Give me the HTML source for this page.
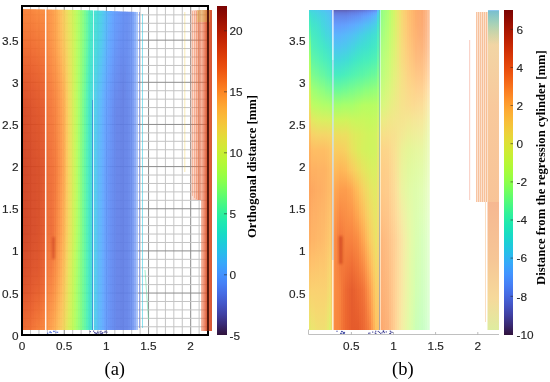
<!DOCTYPE html>
<html><head><meta charset="utf-8"><style>
html,body{margin:0;padding:0;background:#fff;}
body{width:550px;height:382px;position:relative;overflow:hidden;font-family:"Liberation Sans",Arial,sans-serif;color:#262626;}
.t{position:absolute;font-size:11.8px;line-height:12px;white-space:nowrap;-webkit-text-stroke:0.15px #262626;}
.yl{text-align:right;width:30px;}
.xl{text-align:center;width:30px;}
.cb{position:absolute;}
.lab{position:absolute;font-family:"Liberation Serif",serif;font-weight:bold;font-size:12.7px;color:#000;white-space:nowrap;transform-origin:0 0;transform:rotate(-90deg);line-height:13px;}
.cap{position:absolute;font-family:"Liberation Serif",serif;font-size:18.5px;color:#000;line-height:18px;}
</style></head><body>

<svg width="550" height="382" style="position:absolute;left:0;top:0"><defs><linearGradient id="L0" x1="0" y1="0" x2="0" y2="1"><stop offset="0.000" stop-color="#f87b2e" stop-opacity="0.93"/><stop offset="0.034" stop-color="#f6762b" stop-opacity="0.93"/><stop offset="0.081" stop-color="#f26b27" stop-opacity="0.93"/><stop offset="0.128" stop-color="#ee6123" stop-opacity="0.93"/><stop offset="0.190" stop-color="#e6551f" stop-opacity="0.93"/><stop offset="0.252" stop-color="#dd491c" stop-opacity="0.93"/><stop offset="0.315" stop-color="#d6421a" stop-opacity="0.93"/><stop offset="0.377" stop-color="#d4411a" stop-opacity="0.93"/><stop offset="0.439" stop-color="#d03d19" stop-opacity="0.93"/><stop offset="0.502" stop-color="#ce3c19" stop-opacity="0.93"/><stop offset="0.564" stop-color="#ce3c19" stop-opacity="0.93"/><stop offset="0.626" stop-color="#ce3c19" stop-opacity="0.93"/><stop offset="0.688" stop-color="#ce3c19" stop-opacity="0.93"/><stop offset="0.751" stop-color="#d23f1a" stop-opacity="0.93"/><stop offset="0.813" stop-color="#d6421a" stop-opacity="0.93"/><stop offset="0.875" stop-color="#dd491c" stop-opacity="0.93"/><stop offset="0.938" stop-color="#e6551f" stop-opacity="0.93"/><stop offset="1.000" stop-color="#ee6123" stop-opacity="0.93"/></linearGradient><linearGradient id="L1" x1="0" y1="0" x2="0" y2="1"><stop offset="0.000" stop-color="#f87c30" stop-opacity="0.93"/><stop offset="0.034" stop-color="#f6772e" stop-opacity="0.93"/><stop offset="0.081" stop-color="#f26d29" stop-opacity="0.93"/><stop offset="0.128" stop-color="#ee6326" stop-opacity="0.93"/><stop offset="0.190" stop-color="#e65621" stop-opacity="0.93"/><stop offset="0.252" stop-color="#dd4b1e" stop-opacity="0.93"/><stop offset="0.315" stop-color="#d6441d" stop-opacity="0.93"/><stop offset="0.377" stop-color="#d5431c" stop-opacity="0.93"/><stop offset="0.439" stop-color="#d1401c" stop-opacity="0.93"/><stop offset="0.502" stop-color="#cf3e1b" stop-opacity="0.93"/><stop offset="0.564" stop-color="#cf3e1b" stop-opacity="0.93"/><stop offset="0.626" stop-color="#cf3e1b" stop-opacity="0.93"/><stop offset="0.688" stop-color="#cf3e1b" stop-opacity="0.93"/><stop offset="0.751" stop-color="#d3411c" stop-opacity="0.93"/><stop offset="0.813" stop-color="#d6441d" stop-opacity="0.93"/><stop offset="0.875" stop-color="#dd4b1e" stop-opacity="0.93"/><stop offset="0.938" stop-color="#e65621" stop-opacity="0.93"/><stop offset="1.000" stop-color="#ee6326" stop-opacity="0.93"/></linearGradient><linearGradient id="L2" x1="0" y1="0" x2="0" y2="1"><stop offset="0.000" stop-color="#f87d31" stop-opacity="0.93"/><stop offset="0.034" stop-color="#f6782f" stop-opacity="0.93"/><stop offset="0.081" stop-color="#f26e2b" stop-opacity="0.93"/><stop offset="0.128" stop-color="#ee6427" stop-opacity="0.93"/><stop offset="0.190" stop-color="#e65723" stop-opacity="0.93"/><stop offset="0.252" stop-color="#dd4c20" stop-opacity="0.93"/><stop offset="0.315" stop-color="#d7461e" stop-opacity="0.93"/><stop offset="0.377" stop-color="#d5441e" stop-opacity="0.93"/><stop offset="0.439" stop-color="#d3421d" stop-opacity="0.93"/><stop offset="0.502" stop-color="#cf3f1d" stop-opacity="0.93"/><stop offset="0.564" stop-color="#cf3f1d" stop-opacity="0.93"/><stop offset="0.626" stop-color="#cf3f1d" stop-opacity="0.93"/><stop offset="0.688" stop-color="#cf3f1d" stop-opacity="0.93"/><stop offset="0.751" stop-color="#d3421d" stop-opacity="0.93"/><stop offset="0.813" stop-color="#d7461e" stop-opacity="0.93"/><stop offset="0.875" stop-color="#dd4c20" stop-opacity="0.93"/><stop offset="0.938" stop-color="#e65723" stop-opacity="0.93"/><stop offset="1.000" stop-color="#ef6628" stop-opacity="0.93"/></linearGradient><linearGradient id="L3" x1="0" y1="0" x2="0" y2="1"><stop offset="0.000" stop-color="#f87d31" stop-opacity="0.93"/><stop offset="0.034" stop-color="#f6782f" stop-opacity="0.93"/><stop offset="0.081" stop-color="#f26e2b" stop-opacity="0.93"/><stop offset="0.128" stop-color="#ee6427" stop-opacity="0.93"/><stop offset="0.190" stop-color="#e65723" stop-opacity="0.93"/><stop offset="0.252" stop-color="#df4e20" stop-opacity="0.93"/><stop offset="0.315" stop-color="#d8471e" stop-opacity="0.93"/><stop offset="0.377" stop-color="#d7461e" stop-opacity="0.93"/><stop offset="0.439" stop-color="#d3421d" stop-opacity="0.93"/><stop offset="0.502" stop-color="#d1411d" stop-opacity="0.93"/><stop offset="0.564" stop-color="#d1411d" stop-opacity="0.93"/><stop offset="0.626" stop-color="#d1411d" stop-opacity="0.93"/><stop offset="0.688" stop-color="#d1411d" stop-opacity="0.93"/><stop offset="0.751" stop-color="#d5441e" stop-opacity="0.93"/><stop offset="0.813" stop-color="#d8471e" stop-opacity="0.93"/><stop offset="0.875" stop-color="#df4e20" stop-opacity="0.93"/><stop offset="0.938" stop-color="#e85923" stop-opacity="0.93"/><stop offset="1.000" stop-color="#ef6628" stop-opacity="0.93"/></linearGradient><linearGradient id="L4" x1="0" y1="0" x2="0" y2="1"><stop offset="0.000" stop-color="#f87d31" stop-opacity="0.93"/><stop offset="0.034" stop-color="#f6782f" stop-opacity="0.93"/><stop offset="0.081" stop-color="#f26e2b" stop-opacity="0.93"/><stop offset="0.128" stop-color="#ee6427" stop-opacity="0.93"/><stop offset="0.190" stop-color="#e85923" stop-opacity="0.93"/><stop offset="0.252" stop-color="#e15021" stop-opacity="0.93"/><stop offset="0.315" stop-color="#da491f" stop-opacity="0.93"/><stop offset="0.377" stop-color="#d8471e" stop-opacity="0.93"/><stop offset="0.439" stop-color="#d5441e" stop-opacity="0.93"/><stop offset="0.502" stop-color="#d3421d" stop-opacity="0.93"/><stop offset="0.564" stop-color="#d3421d" stop-opacity="0.93"/><stop offset="0.626" stop-color="#d3421d" stop-opacity="0.93"/><stop offset="0.688" stop-color="#d3421d" stop-opacity="0.93"/><stop offset="0.751" stop-color="#d7461e" stop-opacity="0.93"/><stop offset="0.813" stop-color="#da491f" stop-opacity="0.93"/><stop offset="0.875" stop-color="#e15021" stop-opacity="0.93"/><stop offset="0.938" stop-color="#e95b24" stop-opacity="0.93"/><stop offset="1.000" stop-color="#f06929" stop-opacity="0.93"/></linearGradient><linearGradient id="L5" x1="0" y1="0" x2="0" y2="1"><stop offset="0.000" stop-color="#f98032" stop-opacity="0.93"/><stop offset="0.034" stop-color="#f6782f" stop-opacity="0.93"/><stop offset="0.081" stop-color="#f26e2b" stop-opacity="0.93"/><stop offset="0.128" stop-color="#ef6628" stop-opacity="0.93"/><stop offset="0.190" stop-color="#e85923" stop-opacity="0.93"/><stop offset="0.252" stop-color="#e15021" stop-opacity="0.93"/><stop offset="0.315" stop-color="#dc4b1f" stop-opacity="0.93"/><stop offset="0.377" stop-color="#da491f" stop-opacity="0.93"/><stop offset="0.439" stop-color="#d7461e" stop-opacity="0.93"/><stop offset="0.502" stop-color="#d5441e" stop-opacity="0.93"/><stop offset="0.564" stop-color="#d5441e" stop-opacity="0.93"/><stop offset="0.626" stop-color="#d5441e" stop-opacity="0.93"/><stop offset="0.688" stop-color="#d5441e" stop-opacity="0.93"/><stop offset="0.751" stop-color="#d8471e" stop-opacity="0.93"/><stop offset="0.813" stop-color="#dc4b1f" stop-opacity="0.93"/><stop offset="0.875" stop-color="#e25221" stop-opacity="0.93"/><stop offset="0.938" stop-color="#ea5d25" stop-opacity="0.93"/><stop offset="1.000" stop-color="#f26e2b" stop-opacity="0.93"/></linearGradient><linearGradient id="L6" x1="0" y1="0" x2="0" y2="1"><stop offset="0.000" stop-color="#f98233" stop-opacity="0.93"/><stop offset="0.034" stop-color="#f77a30" stop-opacity="0.93"/><stop offset="0.081" stop-color="#f3702c" stop-opacity="0.93"/><stop offset="0.128" stop-color="#ef6628" stop-opacity="0.93"/><stop offset="0.190" stop-color="#e95b24" stop-opacity="0.93"/><stop offset="0.252" stop-color="#e25221" stop-opacity="0.93"/><stop offset="0.315" stop-color="#dd4c20" stop-opacity="0.93"/><stop offset="0.377" stop-color="#da491f" stop-opacity="0.93"/><stop offset="0.439" stop-color="#d8471e" stop-opacity="0.93"/><stop offset="0.502" stop-color="#d5441e" stop-opacity="0.93"/><stop offset="0.564" stop-color="#d5441e" stop-opacity="0.93"/><stop offset="0.626" stop-color="#d5441e" stop-opacity="0.93"/><stop offset="0.688" stop-color="#d5441e" stop-opacity="0.93"/><stop offset="0.751" stop-color="#da491f" stop-opacity="0.93"/><stop offset="0.813" stop-color="#dd4c20" stop-opacity="0.93"/><stop offset="0.875" stop-color="#e45422" stop-opacity="0.93"/><stop offset="0.938" stop-color="#ed6226" stop-opacity="0.93"/><stop offset="1.000" stop-color="#f3702c" stop-opacity="0.93"/></linearGradient><linearGradient id="L7" x1="0" y1="0" x2="0" y2="1"><stop offset="0.000" stop-color="#fa8535" stop-opacity="0.93"/><stop offset="0.034" stop-color="#f87d31" stop-opacity="0.93"/><stop offset="0.081" stop-color="#f4732d" stop-opacity="0.93"/><stop offset="0.128" stop-color="#f06929" stop-opacity="0.93"/><stop offset="0.190" stop-color="#ea5d25" stop-opacity="0.93"/><stop offset="0.252" stop-color="#e45422" stop-opacity="0.93"/><stop offset="0.315" stop-color="#df4e20" stop-opacity="0.93"/><stop offset="0.377" stop-color="#dc4b1f" stop-opacity="0.93"/><stop offset="0.439" stop-color="#da491f" stop-opacity="0.93"/><stop offset="0.502" stop-color="#d7461e" stop-opacity="0.93"/><stop offset="0.564" stop-color="#d7461e" stop-opacity="0.93"/><stop offset="0.626" stop-color="#d7461e" stop-opacity="0.93"/><stop offset="0.688" stop-color="#d7461e" stop-opacity="0.93"/><stop offset="0.751" stop-color="#da491f" stop-opacity="0.93"/><stop offset="0.813" stop-color="#dd4c20" stop-opacity="0.93"/><stop offset="0.875" stop-color="#e55622" stop-opacity="0.93"/><stop offset="0.938" stop-color="#ee6427" stop-opacity="0.93"/><stop offset="1.000" stop-color="#f5752e" stop-opacity="0.93"/></linearGradient><linearGradient id="L8" x1="0" y1="0" x2="0" y2="1"><stop offset="0.000" stop-color="#fa8535" stop-opacity="0.93"/><stop offset="0.034" stop-color="#f87d32" stop-opacity="0.93"/><stop offset="0.081" stop-color="#f4732d" stop-opacity="0.93"/><stop offset="0.128" stop-color="#f16b2a" stop-opacity="0.93"/><stop offset="0.190" stop-color="#ec6026" stop-opacity="0.93"/><stop offset="0.252" stop-color="#e55623" stop-opacity="0.93"/><stop offset="0.315" stop-color="#e15021" stop-opacity="0.93"/><stop offset="0.377" stop-color="#de4d20" stop-opacity="0.93"/><stop offset="0.439" stop-color="#dc4b20" stop-opacity="0.93"/><stop offset="0.502" stop-color="#d8481f" stop-opacity="0.93"/><stop offset="0.564" stop-color="#d8481f" stop-opacity="0.93"/><stop offset="0.626" stop-color="#d8481f" stop-opacity="0.93"/><stop offset="0.688" stop-color="#da491f" stop-opacity="0.93"/><stop offset="0.751" stop-color="#de4d20" stop-opacity="0.93"/><stop offset="0.813" stop-color="#e15021" stop-opacity="0.93"/><stop offset="0.875" stop-color="#e65823" stop-opacity="0.93"/><stop offset="0.938" stop-color="#ef6728" stop-opacity="0.93"/><stop offset="1.000" stop-color="#f6782f" stop-opacity="0.93"/></linearGradient><linearGradient id="L9" x1="0" y1="0" x2="0" y2="1"><stop offset="0.000" stop-color="#fa8636" stop-opacity="0.93"/><stop offset="0.034" stop-color="#f87e32" stop-opacity="0.93"/><stop offset="0.081" stop-color="#f4732e" stop-opacity="0.93"/><stop offset="0.128" stop-color="#f16c2b" stop-opacity="0.93"/><stop offset="0.190" stop-color="#ec6026" stop-opacity="0.93"/><stop offset="0.252" stop-color="#e75824" stop-opacity="0.93"/><stop offset="0.315" stop-color="#e15122" stop-opacity="0.93"/><stop offset="0.377" stop-color="#df4f21" stop-opacity="0.93"/><stop offset="0.439" stop-color="#de4d21" stop-opacity="0.93"/><stop offset="0.502" stop-color="#da4a20" stop-opacity="0.93"/><stop offset="0.564" stop-color="#da4a20" stop-opacity="0.93"/><stop offset="0.626" stop-color="#dc4c20" stop-opacity="0.93"/><stop offset="0.688" stop-color="#dc4c20" stop-opacity="0.93"/><stop offset="0.751" stop-color="#df4f21" stop-opacity="0.93"/><stop offset="0.813" stop-color="#e25322" stop-opacity="0.93"/><stop offset="0.875" stop-color="#e95c25" stop-opacity="0.93"/><stop offset="0.938" stop-color="#f06a2a" stop-opacity="0.93"/><stop offset="1.000" stop-color="#f77b31" stop-opacity="0.93"/></linearGradient><linearGradient id="L10" x1="0" y1="0" x2="0" y2="1"><stop offset="0.000" stop-color="#fa8636" stop-opacity="0.93"/><stop offset="0.034" stop-color="#f87e33" stop-opacity="0.93"/><stop offset="0.081" stop-color="#f5742f" stop-opacity="0.93"/><stop offset="0.128" stop-color="#f26c2c" stop-opacity="0.93"/><stop offset="0.190" stop-color="#ed6328" stop-opacity="0.93"/><stop offset="0.252" stop-color="#e75925" stop-opacity="0.93"/><stop offset="0.315" stop-color="#e25323" stop-opacity="0.93"/><stop offset="0.377" stop-color="#e15223" stop-opacity="0.93"/><stop offset="0.439" stop-color="#de4e22" stop-opacity="0.93"/><stop offset="0.502" stop-color="#dc4c21" stop-opacity="0.93"/><stop offset="0.564" stop-color="#de4e22" stop-opacity="0.93"/><stop offset="0.626" stop-color="#de4e22" stop-opacity="0.93"/><stop offset="0.688" stop-color="#df5022" stop-opacity="0.93"/><stop offset="0.751" stop-color="#e25323" stop-opacity="0.93"/><stop offset="0.813" stop-color="#e55724" stop-opacity="0.93"/><stop offset="0.875" stop-color="#eb5f27" stop-opacity="0.93"/><stop offset="0.938" stop-color="#f36f2d" stop-opacity="0.93"/><stop offset="1.000" stop-color="#f87e33" stop-opacity="0.93"/></linearGradient><linearGradient id="L11" x1="0" y1="0" x2="0" y2="1"><stop offset="0.000" stop-color="#fa8738" stop-opacity="0.93"/><stop offset="0.034" stop-color="#f98236" stop-opacity="0.93"/><stop offset="0.081" stop-color="#f67a33" stop-opacity="0.93"/><stop offset="0.128" stop-color="#f47330" stop-opacity="0.93"/><stop offset="0.190" stop-color="#f0692c" stop-opacity="0.93"/><stop offset="0.252" stop-color="#ec6329" stop-opacity="0.93"/><stop offset="0.315" stop-color="#e85c27" stop-opacity="0.93"/><stop offset="0.377" stop-color="#e75b27" stop-opacity="0.93"/><stop offset="0.439" stop-color="#e45726" stop-opacity="0.93"/><stop offset="0.502" stop-color="#e35525" stop-opacity="0.93"/><stop offset="0.564" stop-color="#e45726" stop-opacity="0.93"/><stop offset="0.626" stop-color="#e45726" stop-opacity="0.93"/><stop offset="0.688" stop-color="#e65926" stop-opacity="0.93"/><stop offset="0.751" stop-color="#e85c27" stop-opacity="0.93"/><stop offset="0.813" stop-color="#eb6029" stop-opacity="0.93"/><stop offset="0.875" stop-color="#f0692c" stop-opacity="0.93"/><stop offset="0.938" stop-color="#f67832" stop-opacity="0.93"/><stop offset="1.000" stop-color="#f98537" stop-opacity="0.93"/></linearGradient><linearGradient id="L12" x1="0" y1="0" x2="0" y2="1"><stop offset="0.000" stop-color="#fa893b" stop-opacity="0.93"/><stop offset="0.034" stop-color="#fa873a" stop-opacity="0.93"/><stop offset="0.081" stop-color="#f98439" stop-opacity="0.93"/><stop offset="0.128" stop-color="#f77f37" stop-opacity="0.93"/><stop offset="0.190" stop-color="#f67a35" stop-opacity="0.93"/><stop offset="0.252" stop-color="#f37232" stop-opacity="0.93"/><stop offset="0.315" stop-color="#f16e30" stop-opacity="0.93"/><stop offset="0.377" stop-color="#f06b2f" stop-opacity="0.93"/><stop offset="0.439" stop-color="#ed672d" stop-opacity="0.93"/><stop offset="0.502" stop-color="#ec652d" stop-opacity="0.93"/><stop offset="0.564" stop-color="#ec652d" stop-opacity="0.93"/><stop offset="0.626" stop-color="#ed672d" stop-opacity="0.93"/><stop offset="0.688" stop-color="#ef692e" stop-opacity="0.93"/><stop offset="0.751" stop-color="#f16e30" stop-opacity="0.93"/><stop offset="0.813" stop-color="#f37232" stop-opacity="0.93"/><stop offset="0.875" stop-color="#f67a35" stop-opacity="0.93"/><stop offset="0.938" stop-color="#f98439" stop-opacity="0.93"/><stop offset="1.000" stop-color="#fb8f3e" stop-opacity="0.93"/></linearGradient><linearGradient id="L13" x1="0" y1="0" x2="0" y2="1"><stop offset="0.000" stop-color="#fb8f3e" stop-opacity="0.93"/><stop offset="0.034" stop-color="#fb8c3d" stop-opacity="0.93"/><stop offset="0.081" stop-color="#fa893b" stop-opacity="0.93"/><stop offset="0.128" stop-color="#f98439" stop-opacity="0.93"/><stop offset="0.190" stop-color="#f77c36" stop-opacity="0.93"/><stop offset="0.252" stop-color="#f47533" stop-opacity="0.93"/><stop offset="0.315" stop-color="#f27031" stop-opacity="0.93"/><stop offset="0.377" stop-color="#f16e30" stop-opacity="0.93"/><stop offset="0.439" stop-color="#ef692e" stop-opacity="0.93"/><stop offset="0.502" stop-color="#ed672d" stop-opacity="0.93"/><stop offset="0.564" stop-color="#ed672d" stop-opacity="0.93"/><stop offset="0.626" stop-color="#ed672d" stop-opacity="0.93"/><stop offset="0.688" stop-color="#ed672d" stop-opacity="0.93"/><stop offset="0.751" stop-color="#f16e30" stop-opacity="0.93"/><stop offset="0.813" stop-color="#f47533" stop-opacity="0.93"/><stop offset="0.875" stop-color="#f77f37" stop-opacity="0.93"/><stop offset="0.938" stop-color="#fa893b" stop-opacity="0.93"/><stop offset="1.000" stop-color="#fd9641" stop-opacity="0.93"/></linearGradient><linearGradient id="L14" x1="0" y1="0" x2="0" y2="1"><stop offset="0.000" stop-color="#fc9440" stop-opacity="0.93"/><stop offset="0.034" stop-color="#fc913f" stop-opacity="0.93"/><stop offset="0.081" stop-color="#fb8f3e" stop-opacity="0.93"/><stop offset="0.128" stop-color="#fa893b" stop-opacity="0.93"/><stop offset="0.190" stop-color="#f88138" stop-opacity="0.93"/><stop offset="0.252" stop-color="#f57734" stop-opacity="0.93"/><stop offset="0.315" stop-color="#f37232" stop-opacity="0.93"/><stop offset="0.377" stop-color="#f27031" stop-opacity="0.93"/><stop offset="0.439" stop-color="#f06b2f" stop-opacity="0.93"/><stop offset="0.502" stop-color="#ef692e" stop-opacity="0.93"/><stop offset="0.564" stop-color="#ed672d" stop-opacity="0.93"/><stop offset="0.626" stop-color="#ed672d" stop-opacity="0.93"/><stop offset="0.688" stop-color="#ec652d" stop-opacity="0.93"/><stop offset="0.751" stop-color="#f16e30" stop-opacity="0.93"/><stop offset="0.813" stop-color="#f47533" stop-opacity="0.93"/><stop offset="0.875" stop-color="#f88138" stop-opacity="0.93"/><stop offset="0.938" stop-color="#fb8f3e" stop-opacity="0.93"/><stop offset="1.000" stop-color="#fd9c43" stop-opacity="0.93"/></linearGradient><linearGradient id="L15" x1="0" y1="0" x2="0" y2="1"><stop offset="0.000" stop-color="#fd9942" stop-opacity="0.93"/><stop offset="0.034" stop-color="#fd9641" stop-opacity="0.93"/><stop offset="0.081" stop-color="#fc9440" stop-opacity="0.93"/><stop offset="0.128" stop-color="#fb8f3e" stop-opacity="0.93"/><stop offset="0.190" stop-color="#fa873a" stop-opacity="0.93"/><stop offset="0.252" stop-color="#f77c36" stop-opacity="0.93"/><stop offset="0.315" stop-color="#f57734" stop-opacity="0.93"/><stop offset="0.377" stop-color="#f37232" stop-opacity="0.93"/><stop offset="0.439" stop-color="#f27031" stop-opacity="0.93"/><stop offset="0.502" stop-color="#f06b2f" stop-opacity="0.93"/><stop offset="0.564" stop-color="#f06b2f" stop-opacity="0.93"/><stop offset="0.626" stop-color="#f06b2f" stop-opacity="0.93"/><stop offset="0.688" stop-color="#ef692e" stop-opacity="0.93"/><stop offset="0.751" stop-color="#f37232" stop-opacity="0.93"/><stop offset="0.813" stop-color="#f77c36" stop-opacity="0.93"/><stop offset="0.875" stop-color="#fa873a" stop-opacity="0.93"/><stop offset="0.938" stop-color="#fc9440" stop-opacity="0.93"/><stop offset="1.000" stop-color="#fea347" stop-opacity="0.93"/></linearGradient><linearGradient id="L16" x1="0" y1="0" x2="0" y2="1"><stop offset="0.000" stop-color="#fea146" stop-opacity="0.93"/><stop offset="0.034" stop-color="#fe9e44" stop-opacity="0.93"/><stop offset="0.081" stop-color="#fd9c43" stop-opacity="0.93"/><stop offset="0.128" stop-color="#fd9641" stop-opacity="0.93"/><stop offset="0.190" stop-color="#fb8c3d" stop-opacity="0.93"/><stop offset="0.252" stop-color="#f98439" stop-opacity="0.93"/><stop offset="0.315" stop-color="#f77c36" stop-opacity="0.93"/><stop offset="0.377" stop-color="#f67a35" stop-opacity="0.93"/><stop offset="0.439" stop-color="#f47533" stop-opacity="0.93"/><stop offset="0.502" stop-color="#f37232" stop-opacity="0.93"/><stop offset="0.564" stop-color="#f37232" stop-opacity="0.93"/><stop offset="0.626" stop-color="#f47533" stop-opacity="0.93"/><stop offset="0.688" stop-color="#f47533" stop-opacity="0.93"/><stop offset="0.751" stop-color="#f77f37" stop-opacity="0.93"/><stop offset="0.813" stop-color="#fa873a" stop-opacity="0.93"/><stop offset="0.875" stop-color="#fc913f" stop-opacity="0.93"/><stop offset="0.938" stop-color="#fe9e44" stop-opacity="0.93"/><stop offset="1.000" stop-color="#feab4a" stop-opacity="0.93"/></linearGradient><linearGradient id="L17" x1="0" y1="0" x2="0" y2="1"><stop offset="0.000" stop-color="#fea949" stop-opacity="0.93"/><stop offset="0.034" stop-color="#fea648" stop-opacity="0.93"/><stop offset="0.081" stop-color="#fea447" stop-opacity="0.93"/><stop offset="0.128" stop-color="#fe9f45" stop-opacity="0.93"/><stop offset="0.190" stop-color="#fc9440" stop-opacity="0.93"/><stop offset="0.252" stop-color="#fa8a3c" stop-opacity="0.93"/><stop offset="0.315" stop-color="#f9843a" stop-opacity="0.93"/><stop offset="0.377" stop-color="#f88239" stop-opacity="0.93"/><stop offset="0.439" stop-color="#f77d36" stop-opacity="0.93"/><stop offset="0.502" stop-color="#f67a35" stop-opacity="0.93"/><stop offset="0.564" stop-color="#f77d36" stop-opacity="0.93"/><stop offset="0.626" stop-color="#f77f37" stop-opacity="0.93"/><stop offset="0.688" stop-color="#f88239" stop-opacity="0.93"/><stop offset="0.751" stop-color="#fa8a3c" stop-opacity="0.93"/><stop offset="0.813" stop-color="#fc913f" stop-opacity="0.93"/><stop offset="0.875" stop-color="#fd9c44" stop-opacity="0.93"/><stop offset="0.938" stop-color="#fea949" stop-opacity="0.93"/><stop offset="1.000" stop-color="#feb54e" stop-opacity="0.93"/></linearGradient><linearGradient id="L18" x1="0" y1="0" x2="0" y2="1"><stop offset="0.000" stop-color="#feb34e" stop-opacity="0.93"/><stop offset="0.034" stop-color="#feb04d" stop-opacity="0.93"/><stop offset="0.081" stop-color="#feae4c" stop-opacity="0.93"/><stop offset="0.128" stop-color="#fea749" stop-opacity="0.93"/><stop offset="0.190" stop-color="#fd9c45" stop-opacity="0.93"/><stop offset="0.252" stop-color="#fc9240" stop-opacity="0.93"/><stop offset="0.315" stop-color="#fb8d3e" stop-opacity="0.93"/><stop offset="0.377" stop-color="#fa8a3d" stop-opacity="0.93"/><stop offset="0.439" stop-color="#fa883c" stop-opacity="0.93"/><stop offset="0.502" stop-color="#f9853b" stop-opacity="0.93"/><stop offset="0.564" stop-color="#fa883c" stop-opacity="0.93"/><stop offset="0.626" stop-color="#fa8a3d" stop-opacity="0.93"/><stop offset="0.688" stop-color="#fb8d3e" stop-opacity="0.93"/><stop offset="0.751" stop-color="#fc9542" stop-opacity="0.93"/><stop offset="0.813" stop-color="#fd9c45" stop-opacity="0.93"/><stop offset="0.875" stop-color="#fea749" stop-opacity="0.93"/><stop offset="0.938" stop-color="#feb34e" stop-opacity="0.93"/><stop offset="1.000" stop-color="#fcbe52" stop-opacity="0.93"/></linearGradient><linearGradient id="L19" x1="0" y1="0" x2="0" y2="1"><stop offset="0.000" stop-color="#fdbc52" stop-opacity="0.93"/><stop offset="0.034" stop-color="#fdbc52" stop-opacity="0.93"/><stop offset="0.081" stop-color="#fdb850" stop-opacity="0.93"/><stop offset="0.128" stop-color="#feb34f" stop-opacity="0.93"/><stop offset="0.190" stop-color="#fea74a" stop-opacity="0.93"/><stop offset="0.252" stop-color="#fd9d46" stop-opacity="0.93"/><stop offset="0.315" stop-color="#fd9843" stop-opacity="0.93"/><stop offset="0.377" stop-color="#fc9542" stop-opacity="0.93"/><stop offset="0.439" stop-color="#fc9241" stop-opacity="0.93"/><stop offset="0.502" stop-color="#fb9040" stop-opacity="0.93"/><stop offset="0.564" stop-color="#fc9542" stop-opacity="0.93"/><stop offset="0.626" stop-color="#fd9843" stop-opacity="0.93"/><stop offset="0.688" stop-color="#fd9a44" stop-opacity="0.93"/><stop offset="0.751" stop-color="#fea248" stop-opacity="0.93"/><stop offset="0.813" stop-color="#fea94b" stop-opacity="0.93"/><stop offset="0.875" stop-color="#feb34f" stop-opacity="0.93"/><stop offset="0.938" stop-color="#fcbe53" stop-opacity="0.93"/><stop offset="1.000" stop-color="#f9c755" stop-opacity="0.93"/></linearGradient><linearGradient id="L20" x1="0" y1="0" x2="0" y2="1"><stop offset="0.000" stop-color="#f9c755" stop-opacity="0.93"/><stop offset="0.034" stop-color="#fac655" stop-opacity="0.93"/><stop offset="0.081" stop-color="#fbc254" stop-opacity="0.93"/><stop offset="0.128" stop-color="#fcbe53" stop-opacity="0.93"/><stop offset="0.190" stop-color="#feb54f" stop-opacity="0.93"/><stop offset="0.252" stop-color="#fea94b" stop-opacity="0.93"/><stop offset="0.315" stop-color="#fea449" stop-opacity="0.93"/><stop offset="0.377" stop-color="#fea248" stop-opacity="0.93"/><stop offset="0.439" stop-color="#fe9f47" stop-opacity="0.93"/><stop offset="0.502" stop-color="#fe9f47" stop-opacity="0.93"/><stop offset="0.564" stop-color="#fea248" stop-opacity="0.93"/><stop offset="0.626" stop-color="#fea74a" stop-opacity="0.93"/><stop offset="0.688" stop-color="#fea94b" stop-opacity="0.93"/><stop offset="0.751" stop-color="#feb14e" stop-opacity="0.93"/><stop offset="0.813" stop-color="#fdb850" stop-opacity="0.93"/><stop offset="0.875" stop-color="#fcc053" stop-opacity="0.93"/><stop offset="0.938" stop-color="#f9c755" stop-opacity="0.93"/><stop offset="1.000" stop-color="#f4d156" stop-opacity="0.93"/></linearGradient><linearGradient id="L21" x1="0" y1="0" x2="0" y2="1"><stop offset="0.000" stop-color="#f4d156" stop-opacity="0.93"/><stop offset="0.034" stop-color="#f5cf56" stop-opacity="0.93"/><stop offset="0.081" stop-color="#f6cd56" stop-opacity="0.93"/><stop offset="0.128" stop-color="#f9c755" stop-opacity="0.93"/><stop offset="0.190" stop-color="#fcc053" stop-opacity="0.93"/><stop offset="0.252" stop-color="#fdb850" stop-opacity="0.93"/><stop offset="0.315" stop-color="#feb34f" stop-opacity="0.93"/><stop offset="0.377" stop-color="#feb34f" stop-opacity="0.93"/><stop offset="0.439" stop-color="#feb14e" stop-opacity="0.93"/><stop offset="0.502" stop-color="#feb14e" stop-opacity="0.93"/><stop offset="0.564" stop-color="#feb34f" stop-opacity="0.93"/><stop offset="0.626" stop-color="#fdb850" stop-opacity="0.93"/><stop offset="0.688" stop-color="#fdba51" stop-opacity="0.93"/><stop offset="0.751" stop-color="#fcc053" stop-opacity="0.93"/><stop offset="0.813" stop-color="#fac655" stop-opacity="0.93"/><stop offset="0.875" stop-color="#f6cd56" stop-opacity="0.93"/><stop offset="0.938" stop-color="#f2d456" stop-opacity="0.93"/><stop offset="1.000" stop-color="#edd955" stop-opacity="0.93"/></linearGradient><linearGradient id="L22" x1="0" y1="0" x2="0" y2="1"><stop offset="0.000" stop-color="#edd955" stop-opacity="0.93"/><stop offset="0.034" stop-color="#efd855" stop-opacity="0.93"/><stop offset="0.081" stop-color="#f0d655" stop-opacity="0.93"/><stop offset="0.128" stop-color="#f3d256" stop-opacity="0.93"/><stop offset="0.190" stop-color="#f6cd56" stop-opacity="0.93"/><stop offset="0.252" stop-color="#f9c755" stop-opacity="0.93"/><stop offset="0.315" stop-color="#fbc454" stop-opacity="0.93"/><stop offset="0.377" stop-color="#fbc454" stop-opacity="0.93"/><stop offset="0.439" stop-color="#fbc454" stop-opacity="0.93"/><stop offset="0.502" stop-color="#fbc454" stop-opacity="0.93"/><stop offset="0.564" stop-color="#fac655" stop-opacity="0.93"/><stop offset="0.626" stop-color="#f9c755" stop-opacity="0.93"/><stop offset="0.688" stop-color="#f8c955" stop-opacity="0.93"/><stop offset="0.751" stop-color="#f5cf56" stop-opacity="0.93"/><stop offset="0.813" stop-color="#f2d456" stop-opacity="0.93"/><stop offset="0.875" stop-color="#edd955" stop-opacity="0.93"/><stop offset="0.938" stop-color="#e9de54" stop-opacity="0.93"/><stop offset="1.000" stop-color="#e2e553" stop-opacity="0.93"/></linearGradient><linearGradient id="L23" x1="0" y1="0" x2="0" y2="1"><stop offset="0.000" stop-color="#e4e353" stop-opacity="0.93"/><stop offset="0.034" stop-color="#e5e254" stop-opacity="0.93"/><stop offset="0.081" stop-color="#e9de55" stop-opacity="0.93"/><stop offset="0.128" stop-color="#eadd55" stop-opacity="0.93"/><stop offset="0.190" stop-color="#eed955" stop-opacity="0.93"/><stop offset="0.252" stop-color="#f0d656" stop-opacity="0.93"/><stop offset="0.315" stop-color="#f2d456" stop-opacity="0.93"/><stop offset="0.377" stop-color="#f2d456" stop-opacity="0.93"/><stop offset="0.439" stop-color="#f2d456" stop-opacity="0.93"/><stop offset="0.502" stop-color="#f2d456" stop-opacity="0.93"/><stop offset="0.564" stop-color="#f2d456" stop-opacity="0.93"/><stop offset="0.626" stop-color="#f0d656" stop-opacity="0.93"/><stop offset="0.688" stop-color="#efd856" stop-opacity="0.93"/><stop offset="0.751" stop-color="#eadd55" stop-opacity="0.93"/><stop offset="0.813" stop-color="#e5e254" stop-opacity="0.93"/><stop offset="0.875" stop-color="#e0e653" stop-opacity="0.93"/><stop offset="0.938" stop-color="#dce952" stop-opacity="0.93"/><stop offset="1.000" stop-color="#d6ed51" stop-opacity="0.93"/></linearGradient><linearGradient id="L24" x1="0" y1="0" x2="0" y2="1"><stop offset="0.000" stop-color="#d9ec53" stop-opacity="0.93"/><stop offset="0.034" stop-color="#dbeb53" stop-opacity="0.93"/><stop offset="0.081" stop-color="#dde953" stop-opacity="0.93"/><stop offset="0.128" stop-color="#dee853" stop-opacity="0.93"/><stop offset="0.190" stop-color="#e2e554" stop-opacity="0.93"/><stop offset="0.252" stop-color="#e4e354" stop-opacity="0.93"/><stop offset="0.315" stop-color="#e4e354" stop-opacity="0.93"/><stop offset="0.377" stop-color="#e4e354" stop-opacity="0.93"/><stop offset="0.439" stop-color="#e4e354" stop-opacity="0.93"/><stop offset="0.502" stop-color="#e4e354" stop-opacity="0.93"/><stop offset="0.564" stop-color="#e4e354" stop-opacity="0.93"/><stop offset="0.626" stop-color="#e2e554" stop-opacity="0.93"/><stop offset="0.688" stop-color="#e0e654" stop-opacity="0.93"/><stop offset="0.751" stop-color="#dde953" stop-opacity="0.93"/><stop offset="0.813" stop-color="#d7ed52" stop-opacity="0.93"/><stop offset="0.875" stop-color="#d2f052" stop-opacity="0.93"/><stop offset="0.938" stop-color="#cef252" stop-opacity="0.93"/><stop offset="1.000" stop-color="#c8f552" stop-opacity="0.93"/></linearGradient><linearGradient id="L25" x1="0" y1="0" x2="0" y2="1"><stop offset="0.000" stop-color="#ccf352" stop-opacity="0.93"/><stop offset="0.034" stop-color="#cef252" stop-opacity="0.93"/><stop offset="0.081" stop-color="#d1f152" stop-opacity="0.93"/><stop offset="0.128" stop-color="#d3f052" stop-opacity="0.93"/><stop offset="0.190" stop-color="#d3f052" stop-opacity="0.93"/><stop offset="0.252" stop-color="#d5ef53" stop-opacity="0.93"/><stop offset="0.315" stop-color="#d5ef53" stop-opacity="0.93"/><stop offset="0.377" stop-color="#d5ef53" stop-opacity="0.93"/><stop offset="0.439" stop-color="#d5ef53" stop-opacity="0.93"/><stop offset="0.502" stop-color="#d5ef53" stop-opacity="0.93"/><stop offset="0.564" stop-color="#d3f052" stop-opacity="0.93"/><stop offset="0.626" stop-color="#d1f152" stop-opacity="0.93"/><stop offset="0.688" stop-color="#d1f152" stop-opacity="0.93"/><stop offset="0.751" stop-color="#ccf352" stop-opacity="0.93"/><stop offset="0.813" stop-color="#c6f653" stop-opacity="0.93"/><stop offset="0.875" stop-color="#c4f753" stop-opacity="0.93"/><stop offset="0.938" stop-color="#bff954" stop-opacity="0.93"/><stop offset="1.000" stop-color="#bbfb55" stop-opacity="0.93"/></linearGradient><linearGradient id="L26" x1="0" y1="0" x2="0" y2="1"><stop offset="0.000" stop-color="#c1f853" stop-opacity="0.93"/><stop offset="0.034" stop-color="#c1f853" stop-opacity="0.93"/><stop offset="0.081" stop-color="#c4f753" stop-opacity="0.93"/><stop offset="0.128" stop-color="#c4f753" stop-opacity="0.93"/><stop offset="0.190" stop-color="#c4f753" stop-opacity="0.93"/><stop offset="0.252" stop-color="#c4f753" stop-opacity="0.93"/><stop offset="0.315" stop-color="#c4f753" stop-opacity="0.93"/><stop offset="0.377" stop-color="#c4f753" stop-opacity="0.93"/><stop offset="0.439" stop-color="#c4f753" stop-opacity="0.93"/><stop offset="0.502" stop-color="#c4f753" stop-opacity="0.93"/><stop offset="0.564" stop-color="#c4f753" stop-opacity="0.93"/><stop offset="0.626" stop-color="#c1f853" stop-opacity="0.93"/><stop offset="0.688" stop-color="#bff954" stop-opacity="0.93"/><stop offset="0.751" stop-color="#bbfb55" stop-opacity="0.93"/><stop offset="0.813" stop-color="#b6fc57" stop-opacity="0.93"/><stop offset="0.875" stop-color="#b2fd59" stop-opacity="0.93"/><stop offset="0.938" stop-color="#b0fd5a" stop-opacity="0.93"/><stop offset="1.000" stop-color="#adfe5c" stop-opacity="0.93"/></linearGradient><linearGradient id="L27" x1="0" y1="0" x2="0" y2="1"><stop offset="0.000" stop-color="#b4fc58" stop-opacity="0.92"/><stop offset="0.034" stop-color="#b4fc58" stop-opacity="0.92"/><stop offset="0.081" stop-color="#b4fc58" stop-opacity="0.92"/><stop offset="0.128" stop-color="#b4fc58" stop-opacity="0.92"/><stop offset="0.190" stop-color="#b4fc58" stop-opacity="0.92"/><stop offset="0.252" stop-color="#b4fc58" stop-opacity="0.92"/><stop offset="0.315" stop-color="#b4fc58" stop-opacity="0.92"/><stop offset="0.377" stop-color="#b4fc58" stop-opacity="0.92"/><stop offset="0.439" stop-color="#b2fd59" stop-opacity="0.92"/><stop offset="0.502" stop-color="#b2fd59" stop-opacity="0.92"/><stop offset="0.564" stop-color="#b2fd59" stop-opacity="0.92"/><stop offset="0.626" stop-color="#b0fd5a" stop-opacity="0.92"/><stop offset="0.688" stop-color="#adfe5c" stop-opacity="0.92"/><stop offset="0.751" stop-color="#a8fe5f" stop-opacity="0.92"/><stop offset="0.813" stop-color="#a5fe60" stop-opacity="0.92"/><stop offset="0.875" stop-color="#a0ff64" stop-opacity="0.92"/><stop offset="0.938" stop-color="#a0ff64" stop-opacity="0.92"/><stop offset="1.000" stop-color="#9dff66" stop-opacity="0.92"/></linearGradient><linearGradient id="L28" x1="0" y1="0" x2="0" y2="1"><stop offset="0.000" stop-color="#a5fe60" stop-opacity="0.92"/><stop offset="0.034" stop-color="#a5fe60" stop-opacity="0.92"/><stop offset="0.081" stop-color="#a5fe60" stop-opacity="0.92"/><stop offset="0.128" stop-color="#a5fe60" stop-opacity="0.92"/><stop offset="0.190" stop-color="#a3ff62" stop-opacity="0.92"/><stop offset="0.252" stop-color="#a0ff64" stop-opacity="0.92"/><stop offset="0.315" stop-color="#a0ff64" stop-opacity="0.92"/><stop offset="0.377" stop-color="#9dff66" stop-opacity="0.92"/><stop offset="0.439" stop-color="#9dff66" stop-opacity="0.92"/><stop offset="0.502" stop-color="#9aff69" stop-opacity="0.92"/><stop offset="0.564" stop-color="#9aff69" stop-opacity="0.92"/><stop offset="0.626" stop-color="#9aff69" stop-opacity="0.92"/><stop offset="0.688" stop-color="#9aff69" stop-opacity="0.92"/><stop offset="0.751" stop-color="#93ff6d" stop-opacity="0.92"/><stop offset="0.813" stop-color="#90ff70" stop-opacity="0.92"/><stop offset="0.875" stop-color="#8dfe72" stop-opacity="0.92"/><stop offset="0.938" stop-color="#8dfe72" stop-opacity="0.92"/><stop offset="1.000" stop-color="#8dfe72" stop-opacity="0.92"/></linearGradient><linearGradient id="L29" x1="0" y1="0" x2="0" y2="1"><stop offset="0.000" stop-color="#93ff6d" stop-opacity="0.92"/><stop offset="0.034" stop-color="#93ff6d" stop-opacity="0.92"/><stop offset="0.081" stop-color="#93ff6d" stop-opacity="0.92"/><stop offset="0.128" stop-color="#93ff6d" stop-opacity="0.92"/><stop offset="0.190" stop-color="#90ff70" stop-opacity="0.92"/><stop offset="0.252" stop-color="#8dfe72" stop-opacity="0.92"/><stop offset="0.315" stop-color="#8afe75" stop-opacity="0.92"/><stop offset="0.377" stop-color="#86fe77" stop-opacity="0.92"/><stop offset="0.439" stop-color="#83fe7a" stop-opacity="0.92"/><stop offset="0.502" stop-color="#83fe7a" stop-opacity="0.92"/><stop offset="0.564" stop-color="#83fe7a" stop-opacity="0.92"/><stop offset="0.626" stop-color="#83fe7a" stop-opacity="0.92"/><stop offset="0.688" stop-color="#83fe7a" stop-opacity="0.92"/><stop offset="0.751" stop-color="#80fd7d" stop-opacity="0.92"/><stop offset="0.813" stop-color="#7cfd7f" stop-opacity="0.92"/><stop offset="0.875" stop-color="#7cfd7f" stop-opacity="0.92"/><stop offset="0.938" stop-color="#7cfd7f" stop-opacity="0.92"/><stop offset="1.000" stop-color="#7cfd7f" stop-opacity="0.92"/></linearGradient><linearGradient id="L30" x1="0" y1="0" x2="0" y2="1"><stop offset="0.000" stop-color="#83fe7a" stop-opacity="0.92"/><stop offset="0.034" stop-color="#83fe7a" stop-opacity="0.92"/><stop offset="0.081" stop-color="#83fe7a" stop-opacity="0.92"/><stop offset="0.128" stop-color="#80fd7d" stop-opacity="0.92"/><stop offset="0.190" stop-color="#7cfd7f" stop-opacity="0.92"/><stop offset="0.252" stop-color="#76fc85" stop-opacity="0.92"/><stop offset="0.315" stop-color="#72fc88" stop-opacity="0.92"/><stop offset="0.377" stop-color="#72fc88" stop-opacity="0.92"/><stop offset="0.439" stop-color="#6ffb8b" stop-opacity="0.92"/><stop offset="0.502" stop-color="#6cfb8e" stop-opacity="0.92"/><stop offset="0.564" stop-color="#6cfb8e" stop-opacity="0.92"/><stop offset="0.626" stop-color="#6cfb8e" stop-opacity="0.92"/><stop offset="0.688" stop-color="#6cfb8e" stop-opacity="0.92"/><stop offset="0.751" stop-color="#6cfb8e" stop-opacity="0.92"/><stop offset="0.813" stop-color="#6cfb8e" stop-opacity="0.92"/><stop offset="0.875" stop-color="#68fa90" stop-opacity="0.92"/><stop offset="0.938" stop-color="#68fa90" stop-opacity="0.92"/><stop offset="1.000" stop-color="#68fa90" stop-opacity="0.92"/></linearGradient><linearGradient id="L31" x1="0" y1="0" x2="0" y2="1"><stop offset="0.000" stop-color="#6ffb8b" stop-opacity="0.92"/><stop offset="0.034" stop-color="#6ffb8b" stop-opacity="0.92"/><stop offset="0.081" stop-color="#6ffb8b" stop-opacity="0.92"/><stop offset="0.128" stop-color="#6cfb8e" stop-opacity="0.92"/><stop offset="0.190" stop-color="#68fa90" stop-opacity="0.92"/><stop offset="0.252" stop-color="#62f996" stop-opacity="0.92"/><stop offset="0.315" stop-color="#5cf79c" stop-opacity="0.92"/><stop offset="0.377" stop-color="#5cf79c" stop-opacity="0.92"/><stop offset="0.439" stop-color="#59f69f" stop-opacity="0.92"/><stop offset="0.502" stop-color="#59f69f" stop-opacity="0.92"/><stop offset="0.564" stop-color="#59f69f" stop-opacity="0.92"/><stop offset="0.626" stop-color="#59f69f" stop-opacity="0.92"/><stop offset="0.688" stop-color="#59f69f" stop-opacity="0.92"/><stop offset="0.751" stop-color="#59f69f" stop-opacity="0.92"/><stop offset="0.813" stop-color="#59f69f" stop-opacity="0.92"/><stop offset="0.875" stop-color="#59f69f" stop-opacity="0.92"/><stop offset="0.938" stop-color="#59f69f" stop-opacity="0.92"/><stop offset="1.000" stop-color="#59f69f" stop-opacity="0.92"/></linearGradient><linearGradient id="L32" x1="0" y1="0" x2="0" y2="1"><stop offset="0.000" stop-color="#5cf79c" stop-opacity="0.92"/><stop offset="0.034" stop-color="#5cf79c" stop-opacity="0.92"/><stop offset="0.081" stop-color="#5cf79c" stop-opacity="0.92"/><stop offset="0.128" stop-color="#59f69f" stop-opacity="0.92"/><stop offset="0.190" stop-color="#51f4a7" stop-opacity="0.92"/><stop offset="0.252" stop-color="#4cf2ad" stop-opacity="0.92"/><stop offset="0.315" stop-color="#4af1af" stop-opacity="0.92"/><stop offset="0.377" stop-color="#4af1af" stop-opacity="0.92"/><stop offset="0.439" stop-color="#47f0b2" stop-opacity="0.92"/><stop offset="0.502" stop-color="#47f0b2" stop-opacity="0.92"/><stop offset="0.564" stop-color="#47f0b2" stop-opacity="0.92"/><stop offset="0.626" stop-color="#47f0b2" stop-opacity="0.92"/><stop offset="0.688" stop-color="#47f0b2" stop-opacity="0.92"/><stop offset="0.751" stop-color="#47f0b2" stop-opacity="0.92"/><stop offset="0.813" stop-color="#47f0b2" stop-opacity="0.92"/><stop offset="0.875" stop-color="#47f0b2" stop-opacity="0.92"/><stop offset="0.938" stop-color="#47f0b2" stop-opacity="0.92"/><stop offset="1.000" stop-color="#47f0b2" stop-opacity="0.92"/></linearGradient><linearGradient id="L33" x1="0" y1="0" x2="0" y2="1"><stop offset="0.000" stop-color="#4af1af" stop-opacity="0.92"/><stop offset="0.034" stop-color="#4af1af" stop-opacity="0.92"/><stop offset="0.081" stop-color="#4af1af" stop-opacity="0.92"/><stop offset="0.128" stop-color="#45efb4" stop-opacity="0.92"/><stop offset="0.190" stop-color="#42edb9" stop-opacity="0.92"/><stop offset="0.252" stop-color="#3eeabf" stop-opacity="0.92"/><stop offset="0.315" stop-color="#3de8c1" stop-opacity="0.92"/><stop offset="0.377" stop-color="#3de8c1" stop-opacity="0.92"/><stop offset="0.439" stop-color="#3de8c1" stop-opacity="0.92"/><stop offset="0.502" stop-color="#3de8c1" stop-opacity="0.92"/><stop offset="0.564" stop-color="#3de8c1" stop-opacity="0.92"/><stop offset="0.626" stop-color="#3de8c1" stop-opacity="0.92"/><stop offset="0.688" stop-color="#3de8c1" stop-opacity="0.92"/><stop offset="0.751" stop-color="#3de8c1" stop-opacity="0.92"/><stop offset="0.813" stop-color="#3de8c1" stop-opacity="0.92"/><stop offset="0.875" stop-color="#3de8c1" stop-opacity="0.92"/><stop offset="0.938" stop-color="#3de8c1" stop-opacity="0.92"/><stop offset="1.000" stop-color="#3de8c1" stop-opacity="0.92"/></linearGradient><linearGradient id="L34" x1="0" y1="0" x2="0" y2="1"><stop offset="0.000" stop-color="#3febbd" stop-opacity="0.92"/><stop offset="0.034" stop-color="#3eeabf" stop-opacity="0.92"/><stop offset="0.081" stop-color="#3ce7c3" stop-opacity="0.92"/><stop offset="0.128" stop-color="#3be6c5" stop-opacity="0.92"/><stop offset="0.190" stop-color="#3ae2cb" stop-opacity="0.92"/><stop offset="0.252" stop-color="#3bdfd0" stop-opacity="0.92"/><stop offset="0.315" stop-color="#3bdcd4" stop-opacity="0.92"/><stop offset="0.377" stop-color="#3bdcd4" stop-opacity="0.92"/><stop offset="0.439" stop-color="#3bdcd4" stop-opacity="0.92"/><stop offset="0.502" stop-color="#3bdcd4" stop-opacity="0.92"/><stop offset="0.564" stop-color="#3bdcd4" stop-opacity="0.92"/><stop offset="0.626" stop-color="#3bdcd4" stop-opacity="0.92"/><stop offset="0.688" stop-color="#3bdcd4" stop-opacity="0.92"/><stop offset="0.751" stop-color="#3bdcd4" stop-opacity="0.92"/><stop offset="0.813" stop-color="#3bdcd4" stop-opacity="0.92"/><stop offset="0.875" stop-color="#3bdcd4" stop-opacity="0.92"/><stop offset="0.938" stop-color="#3bdcd4" stop-opacity="0.92"/><stop offset="1.000" stop-color="#3bdcd4" stop-opacity="0.92"/></linearGradient><linearGradient id="L35" x1="0" y1="0" x2="0" y2="1"><stop offset="0.000" stop-color="#3ae3c9" stop-opacity="0.92"/><stop offset="0.034" stop-color="#3ae3c9" stop-opacity="0.92"/><stop offset="0.081" stop-color="#3ae0ce" stop-opacity="0.92"/><stop offset="0.128" stop-color="#3bdfd0" stop-opacity="0.92"/><stop offset="0.190" stop-color="#3cdad7" stop-opacity="0.92"/><stop offset="0.252" stop-color="#3ed5dd" stop-opacity="0.92"/><stop offset="0.315" stop-color="#3fd3e0" stop-opacity="0.92"/><stop offset="0.377" stop-color="#3fd3e0" stop-opacity="0.92"/><stop offset="0.439" stop-color="#3fd3e0" stop-opacity="0.92"/><stop offset="0.502" stop-color="#3fd3e0" stop-opacity="0.92"/><stop offset="0.564" stop-color="#3fd3e0" stop-opacity="0.92"/><stop offset="0.626" stop-color="#3fd3e0" stop-opacity="0.92"/><stop offset="0.688" stop-color="#3fd3e0" stop-opacity="0.92"/><stop offset="0.751" stop-color="#3fd3e0" stop-opacity="0.92"/><stop offset="0.813" stop-color="#3fd3e0" stop-opacity="0.92"/><stop offset="0.875" stop-color="#3fd3e0" stop-opacity="0.92"/><stop offset="0.938" stop-color="#3fd3e0" stop-opacity="0.92"/><stop offset="1.000" stop-color="#3fd3e0" stop-opacity="0.92"/></linearGradient><linearGradient id="L36" x1="0" y1="0" x2="0" y2="1"><stop offset="0.000" stop-color="#3bdfd0" stop-opacity="0.92"/><stop offset="0.034" stop-color="#3bddd2" stop-opacity="0.92"/><stop offset="0.081" stop-color="#3cdad7" stop-opacity="0.92"/><stop offset="0.128" stop-color="#3dd8d9" stop-opacity="0.92"/><stop offset="0.190" stop-color="#3fd3e0" stop-opacity="0.92"/><stop offset="0.252" stop-color="#43cee6" stop-opacity="0.92"/><stop offset="0.315" stop-color="#44cce8" stop-opacity="0.92"/><stop offset="0.377" stop-color="#46caea" stop-opacity="0.92"/><stop offset="0.439" stop-color="#46caea" stop-opacity="0.92"/><stop offset="0.502" stop-color="#46caea" stop-opacity="0.92"/><stop offset="0.564" stop-color="#46caea" stop-opacity="0.92"/><stop offset="0.626" stop-color="#46caea" stop-opacity="0.92"/><stop offset="0.688" stop-color="#46caea" stop-opacity="0.92"/><stop offset="0.751" stop-color="#46caea" stop-opacity="0.92"/><stop offset="0.813" stop-color="#46caea" stop-opacity="0.92"/><stop offset="0.875" stop-color="#46caea" stop-opacity="0.92"/><stop offset="0.938" stop-color="#46caea" stop-opacity="0.92"/><stop offset="1.000" stop-color="#46caea" stop-opacity="0.92"/></linearGradient><linearGradient id="L37" x1="0" y1="0" x2="0" y2="1"><stop offset="0.000" stop-color="#3cdad7" stop-opacity="0.92"/><stop offset="0.034" stop-color="#3dd8d9" stop-opacity="0.92"/><stop offset="0.081" stop-color="#3ed7db" stop-opacity="0.92"/><stop offset="0.128" stop-color="#3fd3e0" stop-opacity="0.92"/><stop offset="0.190" stop-color="#43cee6" stop-opacity="0.92"/><stop offset="0.252" stop-color="#49c6ee" stop-opacity="0.92"/><stop offset="0.315" stop-color="#4ac4f0" stop-opacity="0.92"/><stop offset="0.377" stop-color="#4cc2f2" stop-opacity="0.92"/><stop offset="0.439" stop-color="#4dc0f4" stop-opacity="0.92"/><stop offset="0.502" stop-color="#4dc0f4" stop-opacity="0.92"/><stop offset="0.564" stop-color="#4dc0f4" stop-opacity="0.92"/><stop offset="0.626" stop-color="#4dc0f4" stop-opacity="0.92"/><stop offset="0.688" stop-color="#4dc0f4" stop-opacity="0.92"/><stop offset="0.751" stop-color="#4dc0f4" stop-opacity="0.92"/><stop offset="0.813" stop-color="#4dc0f4" stop-opacity="0.92"/><stop offset="0.875" stop-color="#4dc0f4" stop-opacity="0.92"/><stop offset="0.938" stop-color="#4dc0f4" stop-opacity="0.92"/><stop offset="1.000" stop-color="#4dc0f4" stop-opacity="0.92"/></linearGradient><linearGradient id="L38" x1="0" y1="0" x2="0" y2="1"><stop offset="0.000" stop-color="#3ed5dd" stop-opacity="0.92"/><stop offset="0.034" stop-color="#3fd3e0" stop-opacity="0.92"/><stop offset="0.081" stop-color="#40d1e2" stop-opacity="0.92"/><stop offset="0.128" stop-color="#42cde6" stop-opacity="0.92"/><stop offset="0.190" stop-color="#48c6ee" stop-opacity="0.92"/><stop offset="0.252" stop-color="#4dbff4" stop-opacity="0.92"/><stop offset="0.315" stop-color="#50bbf7" stop-opacity="0.92"/><stop offset="0.377" stop-color="#51b9f8" stop-opacity="0.92"/><stop offset="0.439" stop-color="#53b7f9" stop-opacity="0.92"/><stop offset="0.502" stop-color="#54b5fb" stop-opacity="0.92"/><stop offset="0.564" stop-color="#54b5fb" stop-opacity="0.92"/><stop offset="0.626" stop-color="#54b5fb" stop-opacity="0.92"/><stop offset="0.688" stop-color="#54b5fb" stop-opacity="0.92"/><stop offset="0.751" stop-color="#54b5fb" stop-opacity="0.92"/><stop offset="0.813" stop-color="#54b5fb" stop-opacity="0.92"/><stop offset="0.875" stop-color="#54b5fb" stop-opacity="0.92"/><stop offset="0.938" stop-color="#54b5fb" stop-opacity="0.92"/><stop offset="1.000" stop-color="#54b5fb" stop-opacity="0.92"/></linearGradient><linearGradient id="L39" x1="0" y1="0" x2="0" y2="1"><stop offset="0.000" stop-color="#41cde6" stop-opacity="0.92"/><stop offset="0.034" stop-color="#43cbe8" stop-opacity="0.92"/><stop offset="0.081" stop-color="#44c9ea" stop-opacity="0.92"/><stop offset="0.128" stop-color="#47c5ee" stop-opacity="0.92"/><stop offset="0.190" stop-color="#4dbdf5" stop-opacity="0.92"/><stop offset="0.252" stop-color="#52b7f9" stop-opacity="0.92"/><stop offset="0.315" stop-color="#55b2fc" stop-opacity="0.92"/><stop offset="0.377" stop-color="#56b0fc" stop-opacity="0.92"/><stop offset="0.439" stop-color="#57aefd" stop-opacity="0.92"/><stop offset="0.502" stop-color="#57aefd" stop-opacity="0.92"/><stop offset="0.564" stop-color="#57aefd" stop-opacity="0.92"/><stop offset="0.626" stop-color="#57aefd" stop-opacity="0.92"/><stop offset="0.688" stop-color="#57aefd" stop-opacity="0.92"/><stop offset="0.751" stop-color="#57aefd" stop-opacity="0.92"/><stop offset="0.813" stop-color="#57aefd" stop-opacity="0.92"/><stop offset="0.875" stop-color="#57aefd" stop-opacity="0.92"/><stop offset="0.938" stop-color="#57aefd" stop-opacity="0.92"/><stop offset="1.000" stop-color="#57aefd" stop-opacity="0.92"/></linearGradient><linearGradient id="L40" x1="0" y1="0" x2="0" y2="1"><stop offset="0.000" stop-color="#46c5ee" stop-opacity="0.92"/><stop offset="0.034" stop-color="#47c3f0" stop-opacity="0.92"/><stop offset="0.081" stop-color="#49c1f2" stop-opacity="0.92"/><stop offset="0.128" stop-color="#4cbdf5" stop-opacity="0.92"/><stop offset="0.190" stop-color="#52b4fb" stop-opacity="0.92"/><stop offset="0.252" stop-color="#56adfd" stop-opacity="0.92"/><stop offset="0.315" stop-color="#59a9fe" stop-opacity="0.92"/><stop offset="0.377" stop-color="#5aa7ff" stop-opacity="0.92"/><stop offset="0.439" stop-color="#5aa7ff" stop-opacity="0.92"/><stop offset="0.502" stop-color="#5ba5ff" stop-opacity="0.92"/><stop offset="0.564" stop-color="#5ba5ff" stop-opacity="0.92"/><stop offset="0.626" stop-color="#5ba5ff" stop-opacity="0.92"/><stop offset="0.688" stop-color="#5ba5ff" stop-opacity="0.92"/><stop offset="0.751" stop-color="#5ba5ff" stop-opacity="0.92"/><stop offset="0.813" stop-color="#5ba5ff" stop-opacity="0.92"/><stop offset="0.875" stop-color="#5ba5ff" stop-opacity="0.92"/><stop offset="0.938" stop-color="#5ba5ff" stop-opacity="0.92"/><stop offset="1.000" stop-color="#5ba5ff" stop-opacity="0.92"/></linearGradient><linearGradient id="L41" x1="0" y1="0" x2="0" y2="1"><stop offset="0.000" stop-color="#4bbcf5" stop-opacity="0.92"/><stop offset="0.034" stop-color="#4dbaf7" stop-opacity="0.92"/><stop offset="0.081" stop-color="#4eb8f8" stop-opacity="0.92"/><stop offset="0.128" stop-color="#51b4fa" stop-opacity="0.92"/><stop offset="0.190" stop-color="#55adfd" stop-opacity="0.92"/><stop offset="0.252" stop-color="#5aa4ff" stop-opacity="0.92"/><stop offset="0.315" stop-color="#5ca0fe" stop-opacity="0.92"/><stop offset="0.377" stop-color="#5d9efe" stop-opacity="0.92"/><stop offset="0.439" stop-color="#5d9efe" stop-opacity="0.92"/><stop offset="0.502" stop-color="#5d9bfd" stop-opacity="0.92"/><stop offset="0.564" stop-color="#5d9bfd" stop-opacity="0.92"/><stop offset="0.626" stop-color="#5d9bfd" stop-opacity="0.92"/><stop offset="0.688" stop-color="#5d9bfd" stop-opacity="0.92"/><stop offset="0.751" stop-color="#5d9bfd" stop-opacity="0.92"/><stop offset="0.813" stop-color="#5d9bfd" stop-opacity="0.92"/><stop offset="0.875" stop-color="#5d9bfd" stop-opacity="0.92"/><stop offset="0.938" stop-color="#5d9bfd" stop-opacity="0.92"/><stop offset="1.000" stop-color="#5d9bfd" stop-opacity="0.92"/></linearGradient><linearGradient id="L42" x1="0" y1="0" x2="0" y2="1"><stop offset="0.000" stop-color="#50b3fa" stop-opacity="0.92"/><stop offset="0.034" stop-color="#50b3fa" stop-opacity="0.92"/><stop offset="0.081" stop-color="#53affc" stop-opacity="0.92"/><stop offset="0.128" stop-color="#56aafe" stop-opacity="0.92"/><stop offset="0.190" stop-color="#59a4ff" stop-opacity="0.92"/><stop offset="0.252" stop-color="#5c9dfe" stop-opacity="0.92"/><stop offset="0.315" stop-color="#5d99fd" stop-opacity="0.92"/><stop offset="0.377" stop-color="#5d97fc" stop-opacity="0.92"/><stop offset="0.439" stop-color="#5d94fa" stop-opacity="0.92"/><stop offset="0.502" stop-color="#5d94fa" stop-opacity="0.92"/><stop offset="0.564" stop-color="#5d94fa" stop-opacity="0.92"/><stop offset="0.626" stop-color="#5d94fa" stop-opacity="0.92"/><stop offset="0.688" stop-color="#5d94fa" stop-opacity="0.92"/><stop offset="0.751" stop-color="#5d94fa" stop-opacity="0.92"/><stop offset="0.813" stop-color="#5d94fa" stop-opacity="0.92"/><stop offset="0.875" stop-color="#5d94fa" stop-opacity="0.92"/><stop offset="0.938" stop-color="#5d94fa" stop-opacity="0.92"/><stop offset="1.000" stop-color="#5d94fa" stop-opacity="0.92"/></linearGradient><linearGradient id="L43" x1="0" y1="0" x2="0" y2="1"><stop offset="0.000" stop-color="#53acfd" stop-opacity="0.92"/><stop offset="0.034" stop-color="#55aafe" stop-opacity="0.92"/><stop offset="0.081" stop-color="#57a5ff" stop-opacity="0.92"/><stop offset="0.128" stop-color="#58a3ff" stop-opacity="0.92"/><stop offset="0.190" stop-color="#5b9cfe" stop-opacity="0.92"/><stop offset="0.252" stop-color="#5c96fc" stop-opacity="0.92"/><stop offset="0.315" stop-color="#5d92f9" stop-opacity="0.92"/><stop offset="0.377" stop-color="#5d92f9" stop-opacity="0.92"/><stop offset="0.439" stop-color="#5d8ff7" stop-opacity="0.92"/><stop offset="0.502" stop-color="#5d8df6" stop-opacity="0.92"/><stop offset="0.564" stop-color="#5d8df6" stop-opacity="0.92"/><stop offset="0.626" stop-color="#5d8df6" stop-opacity="0.92"/><stop offset="0.688" stop-color="#5d8df6" stop-opacity="0.92"/><stop offset="0.751" stop-color="#5d8df6" stop-opacity="0.92"/><stop offset="0.813" stop-color="#5d8df6" stop-opacity="0.92"/><stop offset="0.875" stop-color="#5d8df6" stop-opacity="0.92"/><stop offset="0.938" stop-color="#5d8df6" stop-opacity="0.92"/><stop offset="1.000" stop-color="#5d8df6" stop-opacity="0.92"/></linearGradient><linearGradient id="L44" x1="0" y1="0" x2="0" y2="1"><stop offset="0.000" stop-color="#58a3ff" stop-opacity="0.92"/><stop offset="0.034" stop-color="#58a3ff" stop-opacity="0.92"/><stop offset="0.081" stop-color="#5a9efe" stop-opacity="0.92"/><stop offset="0.128" stop-color="#5a9cfe" stop-opacity="0.92"/><stop offset="0.190" stop-color="#5c96fc" stop-opacity="0.92"/><stop offset="0.252" stop-color="#5c8ff7" stop-opacity="0.92"/><stop offset="0.315" stop-color="#5d8df6" stop-opacity="0.92"/><stop offset="0.377" stop-color="#5d8bf4" stop-opacity="0.92"/><stop offset="0.439" stop-color="#5d8bf4" stop-opacity="0.92"/><stop offset="0.502" stop-color="#5d88f2" stop-opacity="0.92"/><stop offset="0.564" stop-color="#5d88f2" stop-opacity="0.92"/><stop offset="0.626" stop-color="#5d88f2" stop-opacity="0.92"/><stop offset="0.688" stop-color="#5d88f2" stop-opacity="0.92"/><stop offset="0.751" stop-color="#5d88f2" stop-opacity="0.92"/><stop offset="0.813" stop-color="#5d88f2" stop-opacity="0.92"/><stop offset="0.875" stop-color="#5d88f2" stop-opacity="0.92"/><stop offset="0.938" stop-color="#5d88f2" stop-opacity="0.92"/><stop offset="1.000" stop-color="#5d88f2" stop-opacity="0.92"/></linearGradient><linearGradient id="L45" x1="0" y1="0" x2="0" y2="1"><stop offset="0.000" stop-color="#5a9efe" stop-opacity="0.92"/><stop offset="0.034" stop-color="#5a9cfe" stop-opacity="0.92"/><stop offset="0.081" stop-color="#5b9afd" stop-opacity="0.92"/><stop offset="0.128" stop-color="#5c96fc" stop-opacity="0.92"/><stop offset="0.190" stop-color="#5c8ff7" stop-opacity="0.92"/><stop offset="0.252" stop-color="#5d8bf4" stop-opacity="0.92"/><stop offset="0.315" stop-color="#5d86f0" stop-opacity="0.92"/><stop offset="0.377" stop-color="#5d86f0" stop-opacity="0.92"/><stop offset="0.439" stop-color="#5d86f0" stop-opacity="0.92"/><stop offset="0.502" stop-color="#5d84ee" stop-opacity="0.92"/><stop offset="0.564" stop-color="#5d84ee" stop-opacity="0.92"/><stop offset="0.626" stop-color="#5d84ee" stop-opacity="0.92"/><stop offset="0.688" stop-color="#5d84ee" stop-opacity="0.92"/><stop offset="0.751" stop-color="#5d84ee" stop-opacity="0.92"/><stop offset="0.813" stop-color="#5d84ee" stop-opacity="0.92"/><stop offset="0.875" stop-color="#5d84ee" stop-opacity="0.92"/><stop offset="0.938" stop-color="#5d84ee" stop-opacity="0.92"/><stop offset="1.000" stop-color="#5d84ee" stop-opacity="0.92"/></linearGradient><linearGradient id="L46" x1="0" y1="0" x2="0" y2="1"><stop offset="0.000" stop-color="#5b98fd" stop-opacity="0.92"/><stop offset="0.034" stop-color="#5c96fc" stop-opacity="0.92"/><stop offset="0.081" stop-color="#5c93fa" stop-opacity="0.92"/><stop offset="0.128" stop-color="#5c8ff7" stop-opacity="0.92"/><stop offset="0.190" stop-color="#5d8bf4" stop-opacity="0.92"/><stop offset="0.252" stop-color="#5d84ee" stop-opacity="0.92"/><stop offset="0.315" stop-color="#5d82ec" stop-opacity="0.92"/><stop offset="0.377" stop-color="#5d82ec" stop-opacity="0.92"/><stop offset="0.439" stop-color="#5d82ec" stop-opacity="0.92"/><stop offset="0.502" stop-color="#5d82ec" stop-opacity="0.92"/><stop offset="0.564" stop-color="#5d82ec" stop-opacity="0.92"/><stop offset="0.626" stop-color="#5d82ec" stop-opacity="0.92"/><stop offset="0.688" stop-color="#5d82ec" stop-opacity="0.92"/><stop offset="0.751" stop-color="#5d82ec" stop-opacity="0.92"/><stop offset="0.813" stop-color="#5d82ec" stop-opacity="0.92"/><stop offset="0.875" stop-color="#5d82ec" stop-opacity="0.92"/><stop offset="0.938" stop-color="#5d82ec" stop-opacity="0.92"/><stop offset="1.000" stop-color="#5d82ec" stop-opacity="0.92"/></linearGradient><linearGradient id="L47" x1="0" y1="0" x2="0" y2="1"><stop offset="0.000" stop-color="#5c93fa" stop-opacity="0.92"/><stop offset="0.034" stop-color="#5c91f9" stop-opacity="0.92"/><stop offset="0.081" stop-color="#5c8ff7" stop-opacity="0.92"/><stop offset="0.128" stop-color="#5d8bf4" stop-opacity="0.92"/><stop offset="0.190" stop-color="#5d86f0" stop-opacity="0.92"/><stop offset="0.252" stop-color="#5d82ec" stop-opacity="0.92"/><stop offset="0.315" stop-color="#5d7de7" stop-opacity="0.92"/><stop offset="0.377" stop-color="#5d7de7" stop-opacity="0.92"/><stop offset="0.439" stop-color="#5d7de7" stop-opacity="0.92"/><stop offset="0.502" stop-color="#5d7de7" stop-opacity="0.92"/><stop offset="0.564" stop-color="#5d7de7" stop-opacity="0.92"/><stop offset="0.626" stop-color="#5d7de7" stop-opacity="0.92"/><stop offset="0.688" stop-color="#5d7de7" stop-opacity="0.92"/><stop offset="0.751" stop-color="#5d7de7" stop-opacity="0.92"/><stop offset="0.813" stop-color="#5d7de7" stop-opacity="0.92"/><stop offset="0.875" stop-color="#5d7de7" stop-opacity="0.92"/><stop offset="0.938" stop-color="#5d7de7" stop-opacity="0.92"/><stop offset="1.000" stop-color="#5d7de7" stop-opacity="0.92"/></linearGradient><linearGradient id="L48" x1="0" y1="0" x2="0" y2="1"><stop offset="0.000" stop-color="#5c8ff7" stop-opacity="0.92"/><stop offset="0.034" stop-color="#5c8ff7" stop-opacity="0.92"/><stop offset="0.081" stop-color="#5d8bf4" stop-opacity="0.92"/><stop offset="0.128" stop-color="#5d88f2" stop-opacity="0.92"/><stop offset="0.190" stop-color="#5d84ee" stop-opacity="0.92"/><stop offset="0.252" stop-color="#5d7fe9" stop-opacity="0.92"/><stop offset="0.315" stop-color="#5d7de7" stop-opacity="0.92"/><stop offset="0.377" stop-color="#5d7de7" stop-opacity="0.92"/><stop offset="0.439" stop-color="#5d7de7" stop-opacity="0.92"/><stop offset="0.502" stop-color="#5d7de7" stop-opacity="0.92"/><stop offset="0.564" stop-color="#5d7de7" stop-opacity="0.92"/><stop offset="0.626" stop-color="#5d7de7" stop-opacity="0.92"/><stop offset="0.688" stop-color="#5d7de7" stop-opacity="0.92"/><stop offset="0.751" stop-color="#5d7de7" stop-opacity="0.92"/><stop offset="0.813" stop-color="#5d7de7" stop-opacity="0.92"/><stop offset="0.875" stop-color="#5d7de7" stop-opacity="0.92"/><stop offset="0.938" stop-color="#5d7de7" stop-opacity="0.92"/><stop offset="1.000" stop-color="#5d7de7" stop-opacity="0.92"/></linearGradient><linearGradient id="L49" x1="0" y1="0" x2="0" y2="1"><stop offset="0.000" stop-color="#5d8df6" stop-opacity="0.92"/><stop offset="0.034" stop-color="#5d8bf4" stop-opacity="0.92"/><stop offset="0.081" stop-color="#5d88f2" stop-opacity="0.92"/><stop offset="0.128" stop-color="#5d84ee" stop-opacity="0.92"/><stop offset="0.190" stop-color="#5d7fe9" stop-opacity="0.92"/><stop offset="0.252" stop-color="#5d7de7" stop-opacity="0.92"/><stop offset="0.315" stop-color="#5c7be4" stop-opacity="0.92"/><stop offset="0.377" stop-color="#5c7be4" stop-opacity="0.92"/><stop offset="0.439" stop-color="#5c7be4" stop-opacity="0.92"/><stop offset="0.502" stop-color="#5c7be4" stop-opacity="0.92"/><stop offset="0.564" stop-color="#5c7be4" stop-opacity="0.92"/><stop offset="0.626" stop-color="#5c7be4" stop-opacity="0.92"/><stop offset="0.688" stop-color="#5c7be4" stop-opacity="0.92"/><stop offset="0.751" stop-color="#5c7be4" stop-opacity="0.92"/><stop offset="0.813" stop-color="#5c7be4" stop-opacity="0.92"/><stop offset="0.875" stop-color="#5c7be4" stop-opacity="0.92"/><stop offset="0.938" stop-color="#5c7be4" stop-opacity="0.92"/><stop offset="1.000" stop-color="#5c7be4" stop-opacity="0.92"/></linearGradient><linearGradient id="L50" x1="0" y1="0" x2="0" y2="1"><stop offset="0.000" stop-color="#5d89f2" stop-opacity="0.92"/><stop offset="0.034" stop-color="#5d89f2" stop-opacity="0.92"/><stop offset="0.081" stop-color="#5d86f0" stop-opacity="0.92"/><stop offset="0.128" stop-color="#5d84ee" stop-opacity="0.92"/><stop offset="0.190" stop-color="#5d80e9" stop-opacity="0.92"/><stop offset="0.252" stop-color="#5d7be4" stop-opacity="0.92"/><stop offset="0.315" stop-color="#5d7be4" stop-opacity="0.92"/><stop offset="0.377" stop-color="#5d7be4" stop-opacity="0.92"/><stop offset="0.439" stop-color="#5d7be4" stop-opacity="0.92"/><stop offset="0.502" stop-color="#5d7be4" stop-opacity="0.92"/><stop offset="0.564" stop-color="#5d7be4" stop-opacity="0.92"/><stop offset="0.626" stop-color="#5d7be4" stop-opacity="0.92"/><stop offset="0.688" stop-color="#5d7be4" stop-opacity="0.92"/><stop offset="0.751" stop-color="#5d7be4" stop-opacity="0.92"/><stop offset="0.813" stop-color="#5d7be4" stop-opacity="0.92"/><stop offset="0.875" stop-color="#5d7be4" stop-opacity="0.92"/><stop offset="0.938" stop-color="#5d7be4" stop-opacity="0.92"/><stop offset="1.000" stop-color="#5d7be4" stop-opacity="0.92"/></linearGradient><linearGradient id="L51" x1="0" y1="0" x2="0" y2="1"><stop offset="0.000" stop-color="#5e89f2" stop-opacity="0.92"/><stop offset="0.034" stop-color="#5e87f0" stop-opacity="0.92"/><stop offset="0.081" stop-color="#5e87f0" stop-opacity="0.92"/><stop offset="0.128" stop-color="#5e85ee" stop-opacity="0.92"/><stop offset="0.190" stop-color="#5e80e9" stop-opacity="0.92"/><stop offset="0.252" stop-color="#5e7ee7" stop-opacity="0.92"/><stop offset="0.315" stop-color="#5e7ee7" stop-opacity="0.92"/><stop offset="0.377" stop-color="#5e7ee7" stop-opacity="0.92"/><stop offset="0.439" stop-color="#5e7ee7" stop-opacity="0.92"/><stop offset="0.502" stop-color="#5e7ee7" stop-opacity="0.92"/><stop offset="0.564" stop-color="#5e7ee7" stop-opacity="0.92"/><stop offset="0.626" stop-color="#5e7ee7" stop-opacity="0.92"/><stop offset="0.688" stop-color="#5e7ee7" stop-opacity="0.92"/><stop offset="0.751" stop-color="#5e7ee7" stop-opacity="0.92"/><stop offset="0.813" stop-color="#5e7ee7" stop-opacity="0.92"/><stop offset="0.875" stop-color="#5e7ee7" stop-opacity="0.92"/><stop offset="0.938" stop-color="#5e7ee7" stop-opacity="0.92"/><stop offset="1.000" stop-color="#5e7ee7" stop-opacity="0.92"/></linearGradient><linearGradient id="L52" x1="0" y1="0" x2="0" y2="1"><stop offset="0.000" stop-color="#5e87f0" stop-opacity="0.92"/><stop offset="0.034" stop-color="#5e87f0" stop-opacity="0.92"/><stop offset="0.081" stop-color="#5e85ee" stop-opacity="0.92"/><stop offset="0.128" stop-color="#5e85ee" stop-opacity="0.92"/><stop offset="0.190" stop-color="#5e83ec" stop-opacity="0.92"/><stop offset="0.252" stop-color="#5e81e9" stop-opacity="0.92"/><stop offset="0.315" stop-color="#5e7ee7" stop-opacity="0.92"/><stop offset="0.377" stop-color="#5e7ee7" stop-opacity="0.92"/><stop offset="0.439" stop-color="#5e7ee7" stop-opacity="0.92"/><stop offset="0.502" stop-color="#5e7ee7" stop-opacity="0.92"/><stop offset="0.564" stop-color="#5e7ee7" stop-opacity="0.92"/><stop offset="0.626" stop-color="#5e7ee7" stop-opacity="0.92"/><stop offset="0.688" stop-color="#5e7ee7" stop-opacity="0.92"/><stop offset="0.751" stop-color="#5e7ee7" stop-opacity="0.92"/><stop offset="0.813" stop-color="#5e7ee7" stop-opacity="0.92"/><stop offset="0.875" stop-color="#5e7ee7" stop-opacity="0.92"/><stop offset="0.938" stop-color="#5e7ee7" stop-opacity="0.92"/><stop offset="1.000" stop-color="#5e7ee7" stop-opacity="0.92"/></linearGradient><linearGradient id="L53" x1="0" y1="0" x2="0" y2="1"><stop offset="0.000" stop-color="#6089f0" stop-opacity="0.91"/><stop offset="0.034" stop-color="#6089f0" stop-opacity="0.91"/><stop offset="0.081" stop-color="#6089f0" stop-opacity="0.91"/><stop offset="0.128" stop-color="#6089f0" stop-opacity="0.91"/><stop offset="0.190" stop-color="#6086ee" stop-opacity="0.91"/><stop offset="0.252" stop-color="#6084ec" stop-opacity="0.91"/><stop offset="0.315" stop-color="#6082ea" stop-opacity="0.91"/><stop offset="0.377" stop-color="#6082ea" stop-opacity="0.91"/><stop offset="0.439" stop-color="#6082ea" stop-opacity="0.91"/><stop offset="0.502" stop-color="#6082ea" stop-opacity="0.91"/><stop offset="0.564" stop-color="#6082ea" stop-opacity="0.91"/><stop offset="0.626" stop-color="#6082ea" stop-opacity="0.91"/><stop offset="0.688" stop-color="#6082ea" stop-opacity="0.91"/><stop offset="0.751" stop-color="#6082ea" stop-opacity="0.91"/><stop offset="0.813" stop-color="#6082ea" stop-opacity="0.91"/><stop offset="0.875" stop-color="#6082ea" stop-opacity="0.91"/><stop offset="0.938" stop-color="#6082ea" stop-opacity="0.91"/><stop offset="1.000" stop-color="#6082ea" stop-opacity="0.91"/></linearGradient><linearGradient id="L54" x1="0" y1="0" x2="0" y2="1"><stop offset="0.000" stop-color="#638df2" stop-opacity="0.89"/><stop offset="0.034" stop-color="#638df2" stop-opacity="0.89"/><stop offset="0.081" stop-color="#638df2" stop-opacity="0.89"/><stop offset="0.128" stop-color="#638df2" stop-opacity="0.89"/><stop offset="0.190" stop-color="#638bf1" stop-opacity="0.89"/><stop offset="0.252" stop-color="#6388ee" stop-opacity="0.89"/><stop offset="0.315" stop-color="#6388ee" stop-opacity="0.89"/><stop offset="0.377" stop-color="#6388ee" stop-opacity="0.89"/><stop offset="0.439" stop-color="#6388ee" stop-opacity="0.89"/><stop offset="0.502" stop-color="#6388ee" stop-opacity="0.89"/><stop offset="0.564" stop-color="#6388ee" stop-opacity="0.89"/><stop offset="0.626" stop-color="#6388ee" stop-opacity="0.89"/><stop offset="0.688" stop-color="#6388ee" stop-opacity="0.89"/><stop offset="0.751" stop-color="#6388ee" stop-opacity="0.89"/><stop offset="0.813" stop-color="#6388ee" stop-opacity="0.89"/><stop offset="0.875" stop-color="#6388ee" stop-opacity="0.89"/><stop offset="0.938" stop-color="#6388ee" stop-opacity="0.89"/><stop offset="1.000" stop-color="#6388ee" stop-opacity="0.89"/></linearGradient><linearGradient id="L55" x1="0" y1="0" x2="0" y2="1"><stop offset="0.000" stop-color="#6996f6" stop-opacity="0.87"/><stop offset="0.034" stop-color="#6996f6" stop-opacity="0.87"/><stop offset="0.081" stop-color="#6996f6" stop-opacity="0.87"/><stop offset="0.128" stop-color="#6a94f5" stop-opacity="0.87"/><stop offset="0.190" stop-color="#6a92f3" stop-opacity="0.87"/><stop offset="0.252" stop-color="#6a90f1" stop-opacity="0.87"/><stop offset="0.315" stop-color="#6a90f1" stop-opacity="0.87"/><stop offset="0.377" stop-color="#6a90f1" stop-opacity="0.87"/><stop offset="0.439" stop-color="#6a90f1" stop-opacity="0.87"/><stop offset="0.502" stop-color="#6a90f1" stop-opacity="0.87"/><stop offset="0.564" stop-color="#6a90f1" stop-opacity="0.87"/><stop offset="0.626" stop-color="#6a90f1" stop-opacity="0.87"/><stop offset="0.688" stop-color="#6a90f1" stop-opacity="0.87"/><stop offset="0.751" stop-color="#6a90f1" stop-opacity="0.87"/><stop offset="0.813" stop-color="#6a90f1" stop-opacity="0.87"/><stop offset="0.875" stop-color="#6a90f1" stop-opacity="0.87"/><stop offset="0.938" stop-color="#6a90f1" stop-opacity="0.87"/><stop offset="1.000" stop-color="#6a90f1" stop-opacity="0.87"/></linearGradient><linearGradient id="L56" x1="0" y1="0" x2="0" y2="1"><stop offset="0.000" stop-color="#74a0f8" stop-opacity="0.82"/><stop offset="0.034" stop-color="#74a0f8" stop-opacity="0.82"/><stop offset="0.081" stop-color="#74a0f8" stop-opacity="0.82"/><stop offset="0.128" stop-color="#759ef7" stop-opacity="0.82"/><stop offset="0.190" stop-color="#759ef7" stop-opacity="0.82"/><stop offset="0.252" stop-color="#759cf6" stop-opacity="0.82"/><stop offset="0.315" stop-color="#759af4" stop-opacity="0.82"/><stop offset="0.377" stop-color="#759af4" stop-opacity="0.82"/><stop offset="0.439" stop-color="#759af4" stop-opacity="0.82"/><stop offset="0.502" stop-color="#759af4" stop-opacity="0.82"/><stop offset="0.564" stop-color="#759af4" stop-opacity="0.82"/><stop offset="0.626" stop-color="#759af4" stop-opacity="0.82"/><stop offset="0.688" stop-color="#759af4" stop-opacity="0.82"/><stop offset="0.751" stop-color="#759af4" stop-opacity="0.82"/><stop offset="0.813" stop-color="#759af4" stop-opacity="0.82"/><stop offset="0.875" stop-color="#759af4" stop-opacity="0.82"/><stop offset="0.938" stop-color="#759af4" stop-opacity="0.82"/><stop offset="1.000" stop-color="#759af4" stop-opacity="0.82"/></linearGradient><linearGradient id="L57" x1="0" y1="0" x2="0" y2="1"><stop offset="0.000" stop-color="#8cb3fc" stop-opacity="0.74"/><stop offset="0.034" stop-color="#8cb3fc" stop-opacity="0.74"/><stop offset="0.081" stop-color="#8cb3fc" stop-opacity="0.74"/><stop offset="0.128" stop-color="#8cb2fb" stop-opacity="0.74"/><stop offset="0.190" stop-color="#8cb0fa" stop-opacity="0.74"/><stop offset="0.252" stop-color="#8cb0fa" stop-opacity="0.74"/><stop offset="0.315" stop-color="#8daff8" stop-opacity="0.74"/><stop offset="0.377" stop-color="#8daff8" stop-opacity="0.74"/><stop offset="0.439" stop-color="#8daff8" stop-opacity="0.74"/><stop offset="0.502" stop-color="#8daff8" stop-opacity="0.74"/><stop offset="0.564" stop-color="#8daff8" stop-opacity="0.74"/><stop offset="0.626" stop-color="#8daff8" stop-opacity="0.74"/><stop offset="0.688" stop-color="#8daff8" stop-opacity="0.74"/><stop offset="0.751" stop-color="#8daff8" stop-opacity="0.74"/><stop offset="0.813" stop-color="#8daff8" stop-opacity="0.74"/><stop offset="0.875" stop-color="#8daff8" stop-opacity="0.74"/><stop offset="0.938" stop-color="#8daff8" stop-opacity="0.74"/><stop offset="1.000" stop-color="#8daff8" stop-opacity="0.74"/></linearGradient><linearGradient id="R0" x1="0" y1="0" x2="0" y2="1"><stop offset="0.000" stop-color="#46d5e1"/><stop offset="0.009" stop-color="#42dfd4"/><stop offset="0.019" stop-color="#42e4cb"/><stop offset="0.047" stop-color="#49eebc"/><stop offset="0.078" stop-color="#60f7a3"/><stop offset="0.116" stop-color="#89fe80"/><stop offset="0.156" stop-color="#aafe69"/><stop offset="0.203" stop-color="#c1fa5e"/><stop offset="0.250" stop-color="#d5f15d"/><stop offset="0.297" stop-color="#e7e460"/><stop offset="0.344" stop-color="#f7d164"/><stop offset="0.391" stop-color="#fdc061"/><stop offset="0.438" stop-color="#feb25e"/><stop offset="0.500" stop-color="#fea95c"/><stop offset="0.562" stop-color="#fda45c"/><stop offset="0.641" stop-color="#fda960"/><stop offset="0.719" stop-color="#feaf62"/><stop offset="0.797" stop-color="#fec069"/><stop offset="0.875" stop-color="#fad06e"/><stop offset="0.938" stop-color="#f2dc6e"/><stop offset="1.000" stop-color="#e6e86c"/></linearGradient><linearGradient id="R1" x1="0" y1="0" x2="0" y2="1"><stop offset="0.000" stop-color="#47d3e3"/><stop offset="0.009" stop-color="#44dada"/><stop offset="0.019" stop-color="#42dfd4"/><stop offset="0.047" stop-color="#43e7c8"/><stop offset="0.078" stop-color="#49edbe"/><stop offset="0.116" stop-color="#53f2b3"/><stop offset="0.156" stop-color="#62f7a4"/><stop offset="0.203" stop-color="#7efc8d"/><stop offset="0.250" stop-color="#a4ff71"/><stop offset="0.297" stop-color="#c0fb62"/><stop offset="0.344" stop-color="#e3e862"/><stop offset="0.391" stop-color="#f8d168"/><stop offset="0.438" stop-color="#febc64"/><stop offset="0.500" stop-color="#feb162"/><stop offset="0.562" stop-color="#fda860"/><stop offset="0.641" stop-color="#feaf65"/><stop offset="0.719" stop-color="#feb567"/><stop offset="0.797" stop-color="#fec36d"/><stop offset="0.875" stop-color="#fad171"/><stop offset="0.938" stop-color="#f4db71"/><stop offset="1.000" stop-color="#ebe570"/></linearGradient><linearGradient id="R2" x1="0" y1="0" x2="0" y2="1"><stop offset="0.000" stop-color="#48d1e5"/><stop offset="0.009" stop-color="#45d8dd"/><stop offset="0.019" stop-color="#43dbd8"/><stop offset="0.047" stop-color="#43e4cc"/><stop offset="0.078" stop-color="#47ebc2"/><stop offset="0.116" stop-color="#4ff0b8"/><stop offset="0.156" stop-color="#60f6a7"/><stop offset="0.203" stop-color="#7bfc8f"/><stop offset="0.250" stop-color="#9eff75"/><stop offset="0.297" stop-color="#bcfc64"/><stop offset="0.344" stop-color="#e1ea62"/><stop offset="0.391" stop-color="#f7d268"/><stop offset="0.438" stop-color="#febe64"/><stop offset="0.500" stop-color="#feb162"/><stop offset="0.562" stop-color="#fdaa61"/><stop offset="0.641" stop-color="#feb166"/><stop offset="0.719" stop-color="#feb567"/><stop offset="0.797" stop-color="#fec36d"/><stop offset="0.875" stop-color="#fad171"/><stop offset="0.938" stop-color="#f5da71"/><stop offset="1.000" stop-color="#ece470"/></linearGradient><linearGradient id="R3" x1="0" y1="0" x2="0" y2="1"><stop offset="0.000" stop-color="#4acfe7"/><stop offset="0.009" stop-color="#46d5e1"/><stop offset="0.019" stop-color="#44dada"/><stop offset="0.047" stop-color="#43e3ce"/><stop offset="0.078" stop-color="#46e9c4"/><stop offset="0.116" stop-color="#4defba"/><stop offset="0.156" stop-color="#5bf5ac"/><stop offset="0.203" stop-color="#75fb95"/><stop offset="0.250" stop-color="#9bff77"/><stop offset="0.297" stop-color="#bafd64"/><stop offset="0.344" stop-color="#deec61"/><stop offset="0.391" stop-color="#f6d468"/><stop offset="0.438" stop-color="#febe64"/><stop offset="0.500" stop-color="#feb162"/><stop offset="0.562" stop-color="#feac62"/><stop offset="0.641" stop-color="#feb166"/><stop offset="0.719" stop-color="#feb768"/><stop offset="0.797" stop-color="#fdc56d"/><stop offset="0.875" stop-color="#fad171"/><stop offset="0.938" stop-color="#f6d871"/><stop offset="1.000" stop-color="#efe170"/></linearGradient><linearGradient id="R4" x1="0" y1="0" x2="0" y2="1"><stop offset="0.000" stop-color="#4ccceb"/><stop offset="0.009" stop-color="#48d3e3"/><stop offset="0.019" stop-color="#46d6df"/><stop offset="0.047" stop-color="#43e0d2"/><stop offset="0.078" stop-color="#44e7c8"/><stop offset="0.116" stop-color="#4aedbf"/><stop offset="0.156" stop-color="#58f4af"/><stop offset="0.203" stop-color="#72fa97"/><stop offset="0.250" stop-color="#95ff7c"/><stop offset="0.297" stop-color="#b8fd65"/><stop offset="0.344" stop-color="#dcee61"/><stop offset="0.391" stop-color="#f5d568"/><stop offset="0.438" stop-color="#febe64"/><stop offset="0.500" stop-color="#feb363"/><stop offset="0.562" stop-color="#feae63"/><stop offset="0.641" stop-color="#feb366"/><stop offset="0.719" stop-color="#feb969"/><stop offset="0.797" stop-color="#fdc56d"/><stop offset="0.875" stop-color="#fad171"/><stop offset="0.938" stop-color="#f6d871"/><stop offset="1.000" stop-color="#f0df71"/></linearGradient><linearGradient id="R5" x1="0" y1="0" x2="0" y2="1"><stop offset="0.000" stop-color="#4ecaed"/><stop offset="0.009" stop-color="#4acfe7"/><stop offset="0.019" stop-color="#47d5e1"/><stop offset="0.047" stop-color="#44ddd6"/><stop offset="0.078" stop-color="#43e5cc"/><stop offset="0.116" stop-color="#48ebc3"/><stop offset="0.156" stop-color="#54f2b4"/><stop offset="0.203" stop-color="#6cf99d"/><stop offset="0.250" stop-color="#92fe7e"/><stop offset="0.297" stop-color="#b6fd67"/><stop offset="0.344" stop-color="#dcee61"/><stop offset="0.391" stop-color="#f5d568"/><stop offset="0.438" stop-color="#febe64"/><stop offset="0.500" stop-color="#feb363"/><stop offset="0.562" stop-color="#feae63"/><stop offset="0.641" stop-color="#feb567"/><stop offset="0.719" stop-color="#feb969"/><stop offset="0.797" stop-color="#fdc76e"/><stop offset="0.875" stop-color="#fad171"/><stop offset="0.938" stop-color="#f6d871"/><stop offset="1.000" stop-color="#f0df71"/></linearGradient><linearGradient id="R6" x1="0" y1="0" x2="0" y2="1"><stop offset="0.000" stop-color="#50c6f1"/><stop offset="0.009" stop-color="#4bcde9"/><stop offset="0.019" stop-color="#49d1e5"/><stop offset="0.047" stop-color="#46d8dd"/><stop offset="0.078" stop-color="#44e0d2"/><stop offset="0.116" stop-color="#47eac4"/><stop offset="0.156" stop-color="#52f1b6"/><stop offset="0.203" stop-color="#69f8a0"/><stop offset="0.250" stop-color="#8ffe81"/><stop offset="0.297" stop-color="#b3fe68"/><stop offset="0.344" stop-color="#daef61"/><stop offset="0.391" stop-color="#f5d568"/><stop offset="0.438" stop-color="#febe64"/><stop offset="0.500" stop-color="#feb363"/><stop offset="0.562" stop-color="#feb064"/><stop offset="0.641" stop-color="#feb768"/><stop offset="0.719" stop-color="#febb6a"/><stop offset="0.797" stop-color="#fdc76e"/><stop offset="0.875" stop-color="#fad171"/><stop offset="0.938" stop-color="#f6d871"/><stop offset="1.000" stop-color="#f0df71"/></linearGradient><linearGradient id="R7" x1="0" y1="0" x2="0" y2="1"><stop offset="0.000" stop-color="#52c4f2"/><stop offset="0.009" stop-color="#4ccceb"/><stop offset="0.019" stop-color="#4acfe7"/><stop offset="0.047" stop-color="#47d5e1"/><stop offset="0.078" stop-color="#44ddd6"/><stop offset="0.116" stop-color="#45e7c8"/><stop offset="0.156" stop-color="#4eefbb"/><stop offset="0.203" stop-color="#66f8a2"/><stop offset="0.250" stop-color="#8cfe83"/><stop offset="0.297" stop-color="#b1fe69"/><stop offset="0.344" stop-color="#daef61"/><stop offset="0.391" stop-color="#f5d568"/><stop offset="0.438" stop-color="#febe64"/><stop offset="0.500" stop-color="#feb363"/><stop offset="0.562" stop-color="#feb265"/><stop offset="0.641" stop-color="#feb768"/><stop offset="0.719" stop-color="#febd6b"/><stop offset="0.797" stop-color="#fdc76e"/><stop offset="0.875" stop-color="#fad171"/><stop offset="0.938" stop-color="#f6d871"/><stop offset="1.000" stop-color="#f0df71"/></linearGradient><linearGradient id="R8" x1="0" y1="0" x2="0" y2="1"><stop offset="0.000" stop-color="#55c0f6"/><stop offset="0.009" stop-color="#4fc8ef"/><stop offset="0.019" stop-color="#4dcceb"/><stop offset="0.047" stop-color="#4ad1e5"/><stop offset="0.078" stop-color="#46d8dd"/><stop offset="0.116" stop-color="#44e5cc"/><stop offset="0.156" stop-color="#4deebd"/><stop offset="0.203" stop-color="#61f6a8"/><stop offset="0.250" stop-color="#85fd88"/><stop offset="0.297" stop-color="#b1fe69"/><stop offset="0.344" stop-color="#daef61"/><stop offset="0.391" stop-color="#f5d568"/><stop offset="0.438" stop-color="#fec065"/><stop offset="0.500" stop-color="#feb563"/><stop offset="0.562" stop-color="#feb566"/><stop offset="0.641" stop-color="#febb6a"/><stop offset="0.719" stop-color="#fec16c"/><stop offset="0.797" stop-color="#fcca6f"/><stop offset="0.875" stop-color="#f9d271"/><stop offset="0.938" stop-color="#f4db71"/><stop offset="1.000" stop-color="#eee270"/></linearGradient><linearGradient id="R9" x1="0" y1="0" x2="0" y2="1"><stop offset="0.000" stop-color="#58bcf8"/><stop offset="0.009" stop-color="#52c4f2"/><stop offset="0.019" stop-color="#4fc8ef"/><stop offset="0.047" stop-color="#4ccee9"/><stop offset="0.078" stop-color="#47d7df"/><stop offset="0.116" stop-color="#44e2d0"/><stop offset="0.156" stop-color="#4aecc1"/><stop offset="0.203" stop-color="#5cf5ad"/><stop offset="0.250" stop-color="#82fd8b"/><stop offset="0.297" stop-color="#affe6b"/><stop offset="0.344" stop-color="#d8f061"/><stop offset="0.391" stop-color="#f4d768"/><stop offset="0.438" stop-color="#fdc266"/><stop offset="0.500" stop-color="#feb965"/><stop offset="0.562" stop-color="#feb967"/><stop offset="0.641" stop-color="#febf6b"/><stop offset="0.719" stop-color="#fdc56d"/><stop offset="0.797" stop-color="#fbcf70"/><stop offset="0.875" stop-color="#f6d871"/><stop offset="0.938" stop-color="#efe170"/><stop offset="1.000" stop-color="#e7e96f"/></linearGradient><linearGradient id="R10" x1="0" y1="0" x2="0" y2="1"><stop offset="0.000" stop-color="#59bafa"/><stop offset="0.009" stop-color="#54c2f4"/><stop offset="0.019" stop-color="#52c4f2"/><stop offset="0.047" stop-color="#4fcaed"/><stop offset="0.078" stop-color="#49d3e3"/><stop offset="0.116" stop-color="#45dfd4"/><stop offset="0.156" stop-color="#48eac5"/><stop offset="0.203" stop-color="#59f4af"/><stop offset="0.250" stop-color="#7ffc8d"/><stop offset="0.297" stop-color="#acfe6c"/><stop offset="0.344" stop-color="#d8f061"/><stop offset="0.391" stop-color="#f4d768"/><stop offset="0.438" stop-color="#fdc667"/><stop offset="0.500" stop-color="#febd67"/><stop offset="0.562" stop-color="#febb68"/><stop offset="0.641" stop-color="#fec36d"/><stop offset="0.719" stop-color="#fcca6f"/><stop offset="0.797" stop-color="#f9d471"/><stop offset="0.875" stop-color="#f3dd71"/><stop offset="0.938" stop-color="#eae66f"/><stop offset="1.000" stop-color="#ddf06d"/></linearGradient><linearGradient id="R11" x1="0" y1="0" x2="0" y2="1"><stop offset="0.000" stop-color="#669cfc"/><stop offset="0.009" stop-color="#62a9ff"/><stop offset="0.019" stop-color="#5faffe"/><stop offset="0.047" stop-color="#58bcf8"/><stop offset="0.078" stop-color="#50c8ef"/><stop offset="0.116" stop-color="#47d7df"/><stop offset="0.156" stop-color="#44e5cc"/><stop offset="0.203" stop-color="#50f0b8"/><stop offset="0.250" stop-color="#78fb92"/><stop offset="0.297" stop-color="#a9ff6d"/><stop offset="0.344" stop-color="#d6f15f"/><stop offset="0.391" stop-color="#f2da65"/><stop offset="0.438" stop-color="#fcc865"/><stop offset="0.500" stop-color="#febe64"/><stop offset="0.562" stop-color="#feb863"/><stop offset="0.641" stop-color="#feb964"/><stop offset="0.719" stop-color="#febb64"/><stop offset="0.797" stop-color="#fdc467"/><stop offset="0.875" stop-color="#fbcb69"/><stop offset="0.938" stop-color="#f7d36a"/><stop offset="1.000" stop-color="#f2db69"/></linearGradient><linearGradient id="R12" x1="0" y1="0" x2="0" y2="1"><stop offset="0.000" stop-color="#5f61b5"/><stop offset="0.009" stop-color="#6378da"/><stop offset="0.019" stop-color="#6486ea"/><stop offset="0.047" stop-color="#649dfd"/><stop offset="0.078" stop-color="#5bb3fd"/><stop offset="0.116" stop-color="#4fc5f1"/><stop offset="0.156" stop-color="#44d8dc"/><stop offset="0.203" stop-color="#47ecc0"/><stop offset="0.250" stop-color="#6cfa98"/><stop offset="0.297" stop-color="#a2ff6e"/><stop offset="0.344" stop-color="#cff45c"/><stop offset="0.391" stop-color="#eddd61"/><stop offset="0.438" stop-color="#f9cd61"/><stop offset="0.500" stop-color="#feba5c"/><stop offset="0.562" stop-color="#feab55"/><stop offset="0.641" stop-color="#fd9e4f"/><stop offset="0.719" stop-color="#fb9148"/><stop offset="0.797" stop-color="#fa9047"/><stop offset="0.875" stop-color="#fa8f45"/><stop offset="0.938" stop-color="#fa8e43"/><stop offset="1.000" stop-color="#fa8d42"/></linearGradient><linearGradient id="R13" x1="0" y1="0" x2="0" y2="1"><stop offset="0.000" stop-color="#5f61b5"/><stop offset="0.009" stop-color="#6378da"/><stop offset="0.019" stop-color="#6486ea"/><stop offset="0.047" stop-color="#649dfd"/><stop offset="0.078" stop-color="#5bb3fd"/><stop offset="0.116" stop-color="#4fc5f1"/><stop offset="0.156" stop-color="#44d8dc"/><stop offset="0.203" stop-color="#47ecc0"/><stop offset="0.250" stop-color="#6cfa98"/><stop offset="0.297" stop-color="#a2ff6e"/><stop offset="0.344" stop-color="#cff45c"/><stop offset="0.391" stop-color="#eddd60"/><stop offset="0.438" stop-color="#f9cd61"/><stop offset="0.500" stop-color="#feba5b"/><stop offset="0.562" stop-color="#fea552"/><stop offset="0.641" stop-color="#fc964b"/><stop offset="0.719" stop-color="#f98944"/><stop offset="0.797" stop-color="#f88843"/><stop offset="0.875" stop-color="#f98a42"/><stop offset="0.938" stop-color="#f98941"/><stop offset="1.000" stop-color="#f98840"/></linearGradient><linearGradient id="R14" x1="0" y1="0" x2="0" y2="1"><stop offset="0.000" stop-color="#5f61b5"/><stop offset="0.009" stop-color="#6378da"/><stop offset="0.019" stop-color="#6486ea"/><stop offset="0.047" stop-color="#649dfd"/><stop offset="0.078" stop-color="#5bb3fd"/><stop offset="0.116" stop-color="#4fc5f1"/><stop offset="0.156" stop-color="#44d8dc"/><stop offset="0.203" stop-color="#47ecc0"/><stop offset="0.250" stop-color="#6cfa98"/><stop offset="0.297" stop-color="#a2ff6e"/><stop offset="0.344" stop-color="#cff45c"/><stop offset="0.391" stop-color="#eddd60"/><stop offset="0.438" stop-color="#f9cd60"/><stop offset="0.500" stop-color="#feb859"/><stop offset="0.562" stop-color="#fea250"/><stop offset="0.641" stop-color="#fa9047"/><stop offset="0.719" stop-color="#f57f3f"/><stop offset="0.797" stop-color="#f78340"/><stop offset="0.875" stop-color="#f88741"/><stop offset="0.938" stop-color="#f88640"/><stop offset="1.000" stop-color="#f8863f"/></linearGradient><linearGradient id="R15" x1="0" y1="0" x2="0" y2="1"><stop offset="0.000" stop-color="#5f61b5"/><stop offset="0.009" stop-color="#6378da"/><stop offset="0.019" stop-color="#6486ea"/><stop offset="0.047" stop-color="#649dfd"/><stop offset="0.078" stop-color="#5bb3fd"/><stop offset="0.116" stop-color="#4fc5f1"/><stop offset="0.156" stop-color="#44d8dc"/><stop offset="0.203" stop-color="#47ecc0"/><stop offset="0.250" stop-color="#6cfa98"/><stop offset="0.297" stop-color="#a2ff6e"/><stop offset="0.344" stop-color="#cff45c"/><stop offset="0.391" stop-color="#eddd60"/><stop offset="0.438" stop-color="#f9cd60"/><stop offset="0.500" stop-color="#feb558"/><stop offset="0.562" stop-color="#fd9d4d"/><stop offset="0.641" stop-color="#f98843"/><stop offset="0.719" stop-color="#f3773b"/><stop offset="0.797" stop-color="#f47b3c"/><stop offset="0.875" stop-color="#f7823e"/><stop offset="0.938" stop-color="#f7813d"/><stop offset="1.000" stop-color="#f7813d"/></linearGradient><linearGradient id="R16" x1="0" y1="0" x2="0" y2="1"><stop offset="0.000" stop-color="#5f61b5"/><stop offset="0.009" stop-color="#6378da"/><stop offset="0.019" stop-color="#6486ea"/><stop offset="0.047" stop-color="#639ffe"/><stop offset="0.078" stop-color="#5ab5fc"/><stop offset="0.116" stop-color="#4ec7ef"/><stop offset="0.156" stop-color="#43dada"/><stop offset="0.203" stop-color="#48edbe"/><stop offset="0.250" stop-color="#6ffa96"/><stop offset="0.297" stop-color="#a5ff6c"/><stop offset="0.344" stop-color="#cff45c"/><stop offset="0.391" stop-color="#ecdf60"/><stop offset="0.438" stop-color="#f8ce60"/><stop offset="0.500" stop-color="#feb758"/><stop offset="0.562" stop-color="#fd9d4d"/><stop offset="0.641" stop-color="#f98b44"/><stop offset="0.719" stop-color="#f3793c"/><stop offset="0.797" stop-color="#f3783a"/><stop offset="0.875" stop-color="#f37839"/><stop offset="0.938" stop-color="#f37738"/><stop offset="1.000" stop-color="#f37637"/></linearGradient><linearGradient id="R17" x1="0" y1="0" x2="0" y2="1"><stop offset="0.000" stop-color="#5f61b5"/><stop offset="0.009" stop-color="#6378da"/><stop offset="0.019" stop-color="#6486ea"/><stop offset="0.047" stop-color="#639ffe"/><stop offset="0.078" stop-color="#58b7fb"/><stop offset="0.116" stop-color="#4cc9ed"/><stop offset="0.156" stop-color="#42dbd8"/><stop offset="0.203" stop-color="#49eebc"/><stop offset="0.250" stop-color="#72fb93"/><stop offset="0.297" stop-color="#a7ff6b"/><stop offset="0.344" stop-color="#cff45c"/><stop offset="0.391" stop-color="#ecdf60"/><stop offset="0.438" stop-color="#f7d060"/><stop offset="0.500" stop-color="#feb959"/><stop offset="0.562" stop-color="#fd9d4d"/><stop offset="0.641" stop-color="#fa8d45"/><stop offset="0.719" stop-color="#f57e3d"/><stop offset="0.797" stop-color="#f3783a"/><stop offset="0.875" stop-color="#f07035"/><stop offset="0.938" stop-color="#f06f34"/><stop offset="1.000" stop-color="#f06e33"/></linearGradient><linearGradient id="R18" x1="0" y1="0" x2="0" y2="1"><stop offset="0.000" stop-color="#5f61b5"/><stop offset="0.009" stop-color="#6378da"/><stop offset="0.019" stop-color="#6486ea"/><stop offset="0.047" stop-color="#63a1fe"/><stop offset="0.078" stop-color="#57b9fa"/><stop offset="0.116" stop-color="#4cc9ed"/><stop offset="0.156" stop-color="#42ddd6"/><stop offset="0.203" stop-color="#4befb9"/><stop offset="0.250" stop-color="#72fb93"/><stop offset="0.297" stop-color="#a7ff6b"/><stop offset="0.344" stop-color="#d1f35c"/><stop offset="0.391" stop-color="#ecdf60"/><stop offset="0.438" stop-color="#f5d360"/><stop offset="0.500" stop-color="#febb5a"/><stop offset="0.562" stop-color="#fd9d4d"/><stop offset="0.641" stop-color="#fa8f46"/><stop offset="0.719" stop-color="#f7823f"/><stop offset="0.797" stop-color="#f27538"/><stop offset="0.875" stop-color="#ed6932"/><stop offset="0.938" stop-color="#ed6830"/><stop offset="1.000" stop-color="#ed672f"/></linearGradient><linearGradient id="R19" x1="0" y1="0" x2="0" y2="1"><stop offset="0.000" stop-color="#6064b9"/><stop offset="0.009" stop-color="#647add"/><stop offset="0.019" stop-color="#6588ec"/><stop offset="0.047" stop-color="#62a3ff"/><stop offset="0.078" stop-color="#56bbf8"/><stop offset="0.116" stop-color="#49cde9"/><stop offset="0.156" stop-color="#41ded4"/><stop offset="0.203" stop-color="#4df0b7"/><stop offset="0.250" stop-color="#76fb90"/><stop offset="0.297" stop-color="#a7ff6b"/><stop offset="0.344" stop-color="#cff45c"/><stop offset="0.391" stop-color="#e9e25f"/><stop offset="0.438" stop-color="#f1d860"/><stop offset="0.500" stop-color="#fcc25c"/><stop offset="0.562" stop-color="#fea24f"/><stop offset="0.641" stop-color="#fb9247"/><stop offset="0.719" stop-color="#f7823f"/><stop offset="0.797" stop-color="#f17337"/><stop offset="0.875" stop-color="#ea6531"/><stop offset="0.938" stop-color="#ea642f"/><stop offset="1.000" stop-color="#ea632e"/></linearGradient><linearGradient id="R20" x1="0" y1="0" x2="0" y2="1"><stop offset="0.000" stop-color="#6066bd"/><stop offset="0.009" stop-color="#647de0"/><stop offset="0.019" stop-color="#658aef"/><stop offset="0.047" stop-color="#61a6ff"/><stop offset="0.078" stop-color="#54bdf7"/><stop offset="0.116" stop-color="#48cfe7"/><stop offset="0.156" stop-color="#41e1cf"/><stop offset="0.203" stop-color="#4ff1b5"/><stop offset="0.250" stop-color="#79fc8d"/><stop offset="0.297" stop-color="#a7ff6b"/><stop offset="0.344" stop-color="#cdf55c"/><stop offset="0.391" stop-color="#e5e55e"/><stop offset="0.438" stop-color="#eddd5f"/><stop offset="0.500" stop-color="#fbc75e"/><stop offset="0.562" stop-color="#fea450"/><stop offset="0.641" stop-color="#fc9448"/><stop offset="0.719" stop-color="#f7823f"/><stop offset="0.797" stop-color="#f07136"/><stop offset="0.875" stop-color="#e8612f"/><stop offset="0.938" stop-color="#e8602e"/><stop offset="1.000" stop-color="#e85f2c"/></linearGradient><linearGradient id="R21" x1="0" y1="0" x2="0" y2="1"><stop offset="0.000" stop-color="#6168c1"/><stop offset="0.009" stop-color="#647fe3"/><stop offset="0.019" stop-color="#658cf1"/><stop offset="0.047" stop-color="#60a8ff"/><stop offset="0.078" stop-color="#53bff5"/><stop offset="0.116" stop-color="#46d3e3"/><stop offset="0.156" stop-color="#41e3cd"/><stop offset="0.203" stop-color="#51f2b2"/><stop offset="0.250" stop-color="#79fc8d"/><stop offset="0.297" stop-color="#a7ff6b"/><stop offset="0.344" stop-color="#cbf65d"/><stop offset="0.391" stop-color="#e2e85e"/><stop offset="0.438" stop-color="#e9e25e"/><stop offset="0.500" stop-color="#f9cb5f"/><stop offset="0.562" stop-color="#fea952"/><stop offset="0.641" stop-color="#fc9448"/><stop offset="0.719" stop-color="#f7823f"/><stop offset="0.797" stop-color="#ef6e35"/><stop offset="0.875" stop-color="#e55e2e"/><stop offset="0.938" stop-color="#e55c2d"/><stop offset="1.000" stop-color="#e55b2b"/></linearGradient><linearGradient id="R22" x1="0" y1="0" x2="0" y2="1"><stop offset="0.000" stop-color="#616ac5"/><stop offset="0.009" stop-color="#647fe3"/><stop offset="0.019" stop-color="#648ef3"/><stop offset="0.047" stop-color="#5faaff"/><stop offset="0.078" stop-color="#50c3f2"/><stop offset="0.116" stop-color="#45d4e1"/><stop offset="0.156" stop-color="#41e6c9"/><stop offset="0.203" stop-color="#53f3b0"/><stop offset="0.250" stop-color="#7cfc8b"/><stop offset="0.297" stop-color="#aafe69"/><stop offset="0.344" stop-color="#cbf65d"/><stop offset="0.391" stop-color="#deea5d"/><stop offset="0.438" stop-color="#e5e55d"/><stop offset="0.500" stop-color="#f7d05f"/><stop offset="0.562" stop-color="#feb256"/><stop offset="0.641" stop-color="#fd9c4b"/><stop offset="0.719" stop-color="#f88741"/><stop offset="0.797" stop-color="#f17337"/><stop offset="0.875" stop-color="#e8612f"/><stop offset="0.938" stop-color="#e65e2d"/><stop offset="1.000" stop-color="#e55b2b"/></linearGradient><linearGradient id="R23" x1="0" y1="0" x2="0" y2="1"><stop offset="0.000" stop-color="#626dc9"/><stop offset="0.009" stop-color="#6481e5"/><stop offset="0.019" stop-color="#6490f4"/><stop offset="0.047" stop-color="#5daefe"/><stop offset="0.078" stop-color="#4ec5f1"/><stop offset="0.116" stop-color="#43d8dc"/><stop offset="0.156" stop-color="#42e7c7"/><stop offset="0.203" stop-color="#55f4ad"/><stop offset="0.250" stop-color="#7ffd88"/><stop offset="0.297" stop-color="#adfe67"/><stop offset="0.344" stop-color="#c9f75d"/><stop offset="0.391" stop-color="#ddec5d"/><stop offset="0.438" stop-color="#e2e85d"/><stop offset="0.500" stop-color="#f4d55f"/><stop offset="0.562" stop-color="#feb958"/><stop offset="0.641" stop-color="#fea34e"/><stop offset="0.719" stop-color="#f98942"/><stop offset="0.797" stop-color="#f37739"/><stop offset="0.875" stop-color="#ea6531"/><stop offset="0.938" stop-color="#e8602e"/><stop offset="1.000" stop-color="#e55b2b"/></linearGradient><linearGradient id="R24" x1="0" y1="0" x2="0" y2="1"><stop offset="0.000" stop-color="#626fcc"/><stop offset="0.009" stop-color="#6483e8"/><stop offset="0.019" stop-color="#6492f6"/><stop offset="0.047" stop-color="#5cb0fd"/><stop offset="0.078" stop-color="#4bc9ed"/><stop offset="0.116" stop-color="#41dbd8"/><stop offset="0.156" stop-color="#43e9c3"/><stop offset="0.203" stop-color="#58f4ab"/><stop offset="0.250" stop-color="#82fd85"/><stop offset="0.297" stop-color="#affe66"/><stop offset="0.344" stop-color="#c9f75d"/><stop offset="0.391" stop-color="#dbed5c"/><stop offset="0.438" stop-color="#dcec5c"/><stop offset="0.500" stop-color="#f0da5f"/><stop offset="0.562" stop-color="#fdbf5a"/><stop offset="0.641" stop-color="#fea850"/><stop offset="0.719" stop-color="#fa8e44"/><stop offset="0.797" stop-color="#f47a3a"/><stop offset="0.875" stop-color="#ed6932"/><stop offset="0.938" stop-color="#e9622f"/><stop offset="1.000" stop-color="#e55b2b"/></linearGradient><linearGradient id="R25" x1="0" y1="0" x2="0" y2="1"><stop offset="0.000" stop-color="#626fcc"/><stop offset="0.009" stop-color="#6488ec"/><stop offset="0.019" stop-color="#6494f8"/><stop offset="0.047" stop-color="#59b4fc"/><stop offset="0.078" stop-color="#49cde9"/><stop offset="0.116" stop-color="#41ddd6"/><stop offset="0.156" stop-color="#44eac1"/><stop offset="0.203" stop-color="#5af5a8"/><stop offset="0.250" stop-color="#82fd85"/><stop offset="0.297" stop-color="#b1fe64"/><stop offset="0.344" stop-color="#c9f75d"/><stop offset="0.391" stop-color="#d9ee5c"/><stop offset="0.438" stop-color="#dbed5c"/><stop offset="0.500" stop-color="#eddd5f"/><stop offset="0.562" stop-color="#fbc75e"/><stop offset="0.641" stop-color="#feb256"/><stop offset="0.719" stop-color="#fc9749"/><stop offset="0.797" stop-color="#f7823e"/><stop offset="0.875" stop-color="#ee6c34"/><stop offset="0.938" stop-color="#ec6731"/><stop offset="1.000" stop-color="#e8602e"/></linearGradient><linearGradient id="R26" x1="0" y1="0" x2="0" y2="1"><stop offset="0.000" stop-color="#6271d0"/><stop offset="0.009" stop-color="#648aef"/><stop offset="0.019" stop-color="#6499fb"/><stop offset="0.047" stop-color="#58b6fb"/><stop offset="0.078" stop-color="#47cfe7"/><stop offset="0.116" stop-color="#40ded3"/><stop offset="0.156" stop-color="#45ebbf"/><stop offset="0.203" stop-color="#5af5a8"/><stop offset="0.250" stop-color="#85fd83"/><stop offset="0.297" stop-color="#b4fd63"/><stop offset="0.344" stop-color="#c9f75d"/><stop offset="0.391" stop-color="#d7f05c"/><stop offset="0.438" stop-color="#d7f05c"/><stop offset="0.500" stop-color="#e9e25f"/><stop offset="0.562" stop-color="#f9cd60"/><stop offset="0.641" stop-color="#feb959"/><stop offset="0.719" stop-color="#fea14e"/><stop offset="0.797" stop-color="#f88842"/><stop offset="0.875" stop-color="#f07137"/><stop offset="0.938" stop-color="#ed6a34"/><stop offset="1.000" stop-color="#ea6531"/></linearGradient><linearGradient id="R27" x1="0" y1="0" x2="0" y2="1"><stop offset="0.000" stop-color="#6374d3"/><stop offset="0.009" stop-color="#648ef3"/><stop offset="0.019" stop-color="#639dfd"/><stop offset="0.047" stop-color="#55bbf8"/><stop offset="0.078" stop-color="#45d2e3"/><stop offset="0.116" stop-color="#40e0d1"/><stop offset="0.156" stop-color="#47edbd"/><stop offset="0.203" stop-color="#5df6a5"/><stop offset="0.250" stop-color="#89fe80"/><stop offset="0.297" stop-color="#b6fd62"/><stop offset="0.344" stop-color="#c9f75d"/><stop offset="0.391" stop-color="#d5f15d"/><stop offset="0.438" stop-color="#d5f15d"/><stop offset="0.500" stop-color="#e6e55f"/><stop offset="0.562" stop-color="#f5d462"/><stop offset="0.641" stop-color="#fdc05d"/><stop offset="0.719" stop-color="#fea953"/><stop offset="0.797" stop-color="#fa9047"/><stop offset="0.875" stop-color="#f3773b"/><stop offset="0.938" stop-color="#ef6f37"/><stop offset="1.000" stop-color="#ed6a34"/></linearGradient><linearGradient id="R28" x1="0" y1="0" x2="0" y2="1"><stop offset="0.000" stop-color="#6378da"/><stop offset="0.009" stop-color="#6490f4"/><stop offset="0.019" stop-color="#639ffe"/><stop offset="0.047" stop-color="#52bff5"/><stop offset="0.078" stop-color="#44d4e0"/><stop offset="0.116" stop-color="#40e1cf"/><stop offset="0.156" stop-color="#47edbd"/><stop offset="0.203" stop-color="#60f7a3"/><stop offset="0.250" stop-color="#8cfe7d"/><stop offset="0.297" stop-color="#b6fd62"/><stop offset="0.344" stop-color="#c7f85d"/><stop offset="0.391" stop-color="#d3f25d"/><stop offset="0.438" stop-color="#d3f25d"/><stop offset="0.500" stop-color="#e2e85f"/><stop offset="0.562" stop-color="#f1d962"/><stop offset="0.641" stop-color="#faca61"/><stop offset="0.719" stop-color="#feb659"/><stop offset="0.797" stop-color="#fd9d4d"/><stop offset="0.875" stop-color="#f78441"/><stop offset="0.938" stop-color="#f3793c"/><stop offset="1.000" stop-color="#f07238"/></linearGradient><linearGradient id="R29" x1="0" y1="0" x2="0" y2="1"><stop offset="0.000" stop-color="#647ce0"/><stop offset="0.009" stop-color="#6494f8"/><stop offset="0.019" stop-color="#61a3ff"/><stop offset="0.047" stop-color="#50c1f4"/><stop offset="0.078" stop-color="#42d8dc"/><stop offset="0.116" stop-color="#40e3cd"/><stop offset="0.156" stop-color="#48eebb"/><stop offset="0.203" stop-color="#62f8a0"/><stop offset="0.250" stop-color="#8cfe7d"/><stop offset="0.297" stop-color="#b6fd62"/><stop offset="0.344" stop-color="#c7f85d"/><stop offset="0.391" stop-color="#d1f35d"/><stop offset="0.438" stop-color="#d2f35d"/><stop offset="0.500" stop-color="#dfeb5f"/><stop offset="0.562" stop-color="#eede63"/><stop offset="0.641" stop-color="#f7d163"/><stop offset="0.719" stop-color="#fdc15e"/><stop offset="0.797" stop-color="#feaa54"/><stop offset="0.875" stop-color="#fb9148"/><stop offset="0.938" stop-color="#f88642"/><stop offset="1.000" stop-color="#f3793c"/></linearGradient><linearGradient id="R30" x1="0" y1="0" x2="0" y2="1"><stop offset="0.000" stop-color="#647fe2"/><stop offset="0.009" stop-color="#6498fb"/><stop offset="0.019" stop-color="#60a7ff"/><stop offset="0.047" stop-color="#4dc5f0"/><stop offset="0.078" stop-color="#41d9da"/><stop offset="0.116" stop-color="#40e5c9"/><stop offset="0.156" stop-color="#4aefb9"/><stop offset="0.203" stop-color="#65f89d"/><stop offset="0.250" stop-color="#8ffe7b"/><stop offset="0.297" stop-color="#b6fd62"/><stop offset="0.344" stop-color="#c5f95d"/><stop offset="0.391" stop-color="#d0f45d"/><stop offset="0.438" stop-color="#d0f45e"/><stop offset="0.500" stop-color="#dced60"/><stop offset="0.562" stop-color="#e8e463"/><stop offset="0.641" stop-color="#f3d864"/><stop offset="0.719" stop-color="#facc62"/><stop offset="0.797" stop-color="#feb65a"/><stop offset="0.875" stop-color="#fd9e4f"/><stop offset="0.938" stop-color="#fb9148"/><stop offset="1.000" stop-color="#f78441"/></linearGradient><linearGradient id="R31" x1="0" y1="0" x2="0" y2="1"><stop offset="0.000" stop-color="#6584e8"/><stop offset="0.009" stop-color="#649dfd"/><stop offset="0.019" stop-color="#5daefe"/><stop offset="0.047" stop-color="#4cc9ed"/><stop offset="0.078" stop-color="#41ddd6"/><stop offset="0.116" stop-color="#42e7c7"/><stop offset="0.156" stop-color="#4df0b7"/><stop offset="0.203" stop-color="#69f99b"/><stop offset="0.250" stop-color="#90fe7c"/><stop offset="0.297" stop-color="#b6fd63"/><stop offset="0.344" stop-color="#c5f95f"/><stop offset="0.391" stop-color="#d0f45e"/><stop offset="0.438" stop-color="#d0f45f"/><stop offset="0.500" stop-color="#daef61"/><stop offset="0.562" stop-color="#e6e664"/><stop offset="0.641" stop-color="#efdd65"/><stop offset="0.719" stop-color="#f6d365"/><stop offset="0.797" stop-color="#fdc360"/><stop offset="0.875" stop-color="#feb058"/><stop offset="0.938" stop-color="#fea653"/><stop offset="1.000" stop-color="#fd9b4d"/></linearGradient><linearGradient id="R32" x1="0" y1="0" x2="0" y2="1"><stop offset="0.000" stop-color="#6687ea"/><stop offset="0.009" stop-color="#63a4ff"/><stop offset="0.019" stop-color="#5cb3fd"/><stop offset="0.047" stop-color="#4acde9"/><stop offset="0.078" stop-color="#42dfd4"/><stop offset="0.116" stop-color="#44e8c6"/><stop offset="0.156" stop-color="#50f1b5"/><stop offset="0.203" stop-color="#6af99c"/><stop offset="0.250" stop-color="#94ff7a"/><stop offset="0.297" stop-color="#b7fd64"/><stop offset="0.344" stop-color="#c6f960"/><stop offset="0.391" stop-color="#d0f460"/><stop offset="0.438" stop-color="#d0f460"/><stop offset="0.500" stop-color="#daef62"/><stop offset="0.562" stop-color="#e3e964"/><stop offset="0.641" stop-color="#ebe266"/><stop offset="0.719" stop-color="#f2da66"/><stop offset="0.797" stop-color="#f9ce65"/><stop offset="0.875" stop-color="#fdc160"/><stop offset="0.938" stop-color="#feb95c"/><stop offset="1.000" stop-color="#feb058"/></linearGradient><linearGradient id="R33" x1="0" y1="0" x2="0" y2="1"><stop offset="0.000" stop-color="#678cef"/><stop offset="0.009" stop-color="#63a9ff"/><stop offset="0.019" stop-color="#59bafa"/><stop offset="0.047" stop-color="#49d1e5"/><stop offset="0.078" stop-color="#43e0d2"/><stop offset="0.116" stop-color="#46eac4"/><stop offset="0.156" stop-color="#51f1b6"/><stop offset="0.203" stop-color="#6efa9a"/><stop offset="0.250" stop-color="#94ff7b"/><stop offset="0.297" stop-color="#b7fd65"/><stop offset="0.344" stop-color="#c6f961"/><stop offset="0.391" stop-color="#d1f461"/><stop offset="0.438" stop-color="#d1f461"/><stop offset="0.500" stop-color="#d9f063"/><stop offset="0.562" stop-color="#e2ea65"/><stop offset="0.641" stop-color="#e7e666"/><stop offset="0.719" stop-color="#ebe266"/><stop offset="0.797" stop-color="#f3d866"/><stop offset="0.875" stop-color="#f9ce65"/><stop offset="0.938" stop-color="#fbc964"/><stop offset="1.000" stop-color="#fdc461"/></linearGradient><linearGradient id="R34" x1="0" y1="0" x2="0" y2="1"><stop offset="0.000" stop-color="#5fb7fc"/><stop offset="0.009" stop-color="#50cdec"/><stop offset="0.019" stop-color="#49d7df"/><stop offset="0.047" stop-color="#47e5cd"/><stop offset="0.078" stop-color="#4eedc0"/><stop offset="0.116" stop-color="#58f2b5"/><stop offset="0.156" stop-color="#6af8a5"/><stop offset="0.203" stop-color="#86fd8e"/><stop offset="0.250" stop-color="#a5ff79"/><stop offset="0.297" stop-color="#bffc6b"/><stop offset="0.344" stop-color="#d1f669"/><stop offset="0.391" stop-color="#deef6a"/><stop offset="0.438" stop-color="#e1ec6c"/><stop offset="0.500" stop-color="#e8e76e"/><stop offset="0.562" stop-color="#eee271"/><stop offset="0.641" stop-color="#f2de71"/><stop offset="0.719" stop-color="#f5d970"/><stop offset="0.797" stop-color="#f8d36f"/><stop offset="0.875" stop-color="#fbcc6d"/><stop offset="0.938" stop-color="#fdc76b"/><stop offset="1.000" stop-color="#fdc368"/></linearGradient><linearGradient id="R35" x1="0" y1="0" x2="0" y2="1"><stop offset="0.000" stop-color="#5af2b6"/><stop offset="0.009" stop-color="#63f6ad"/><stop offset="0.019" stop-color="#69f7a8"/><stop offset="0.047" stop-color="#76fa9f"/><stop offset="0.078" stop-color="#83fc96"/><stop offset="0.116" stop-color="#8efd90"/><stop offset="0.156" stop-color="#9bfe89"/><stop offset="0.203" stop-color="#abff82"/><stop offset="0.250" stop-color="#bcfe7a"/><stop offset="0.297" stop-color="#cefa77"/><stop offset="0.344" stop-color="#e1f079"/><stop offset="0.391" stop-color="#efe57d"/><stop offset="0.438" stop-color="#f7dc80"/><stop offset="0.500" stop-color="#fbd681"/><stop offset="0.562" stop-color="#fcd282"/><stop offset="0.641" stop-color="#fecb7f"/><stop offset="0.719" stop-color="#fec37a"/><stop offset="0.797" stop-color="#febe77"/><stop offset="0.875" stop-color="#feba73"/><stop offset="0.938" stop-color="#feb570"/><stop offset="1.000" stop-color="#feb06d"/></linearGradient><linearGradient id="R36" x1="0" y1="0" x2="0" y2="1"><stop offset="0.000" stop-color="#96fe83"/><stop offset="0.009" stop-color="#97fe84"/><stop offset="0.019" stop-color="#97fe85"/><stop offset="0.047" stop-color="#9cff84"/><stop offset="0.078" stop-color="#a3ff82"/><stop offset="0.116" stop-color="#adff7f"/><stop offset="0.156" stop-color="#b4ff7f"/><stop offset="0.203" stop-color="#bcfe7e"/><stop offset="0.250" stop-color="#c9fc7d"/><stop offset="0.297" stop-color="#d7f77e"/><stop offset="0.344" stop-color="#eaec83"/><stop offset="0.391" stop-color="#f6df87"/><stop offset="0.438" stop-color="#fcd487"/><stop offset="0.500" stop-color="#fece87"/><stop offset="0.562" stop-color="#feca87"/><stop offset="0.641" stop-color="#fec284"/><stop offset="0.719" stop-color="#fdb87d"/><stop offset="0.797" stop-color="#fdb47a"/><stop offset="0.875" stop-color="#fdb177"/><stop offset="0.938" stop-color="#fcae74"/><stop offset="1.000" stop-color="#fca970"/></linearGradient><linearGradient id="R37" x1="0" y1="0" x2="0" y2="1"><stop offset="0.000" stop-color="#9fff7d"/><stop offset="0.009" stop-color="#a0ff7e"/><stop offset="0.019" stop-color="#a0ff7f"/><stop offset="0.047" stop-color="#a5ff7f"/><stop offset="0.078" stop-color="#abff7d"/><stop offset="0.116" stop-color="#b4ff7b"/><stop offset="0.156" stop-color="#bbfe7c"/><stop offset="0.203" stop-color="#c2fd7c"/><stop offset="0.250" stop-color="#cefa7c"/><stop offset="0.297" stop-color="#dbf67f"/><stop offset="0.344" stop-color="#eceb85"/><stop offset="0.391" stop-color="#f7e088"/><stop offset="0.438" stop-color="#fcd589"/><stop offset="0.500" stop-color="#fece88"/><stop offset="0.562" stop-color="#fecb89"/><stop offset="0.641" stop-color="#fec486"/><stop offset="0.719" stop-color="#febb80"/><stop offset="0.797" stop-color="#fdb77d"/><stop offset="0.875" stop-color="#fdb47a"/><stop offset="0.938" stop-color="#fcb076"/><stop offset="1.000" stop-color="#fcad74"/></linearGradient><linearGradient id="R38" x1="0" y1="0" x2="0" y2="1"><stop offset="0.000" stop-color="#a5ff7a"/><stop offset="0.009" stop-color="#a6ff7a"/><stop offset="0.019" stop-color="#a9ff79"/><stop offset="0.047" stop-color="#adff7a"/><stop offset="0.078" stop-color="#b3ff79"/><stop offset="0.116" stop-color="#b9fe79"/><stop offset="0.156" stop-color="#c1fd79"/><stop offset="0.203" stop-color="#c8fc7a"/><stop offset="0.250" stop-color="#d4f87c"/><stop offset="0.297" stop-color="#def480"/><stop offset="0.344" stop-color="#edea86"/><stop offset="0.391" stop-color="#f7df8a"/><stop offset="0.438" stop-color="#fcd58a"/><stop offset="0.500" stop-color="#fecf8a"/><stop offset="0.562" stop-color="#fecc8b"/><stop offset="0.641" stop-color="#fec588"/><stop offset="0.719" stop-color="#febd83"/><stop offset="0.797" stop-color="#feba80"/><stop offset="0.875" stop-color="#fdb67c"/><stop offset="0.938" stop-color="#fdb37a"/><stop offset="1.000" stop-color="#fcb077"/></linearGradient><linearGradient id="R39" x1="0" y1="0" x2="0" y2="1"><stop offset="0.000" stop-color="#adff75"/><stop offset="0.009" stop-color="#aeff76"/><stop offset="0.019" stop-color="#b1ff75"/><stop offset="0.047" stop-color="#b4fe75"/><stop offset="0.078" stop-color="#bafe75"/><stop offset="0.116" stop-color="#bffd76"/><stop offset="0.156" stop-color="#c6fc77"/><stop offset="0.203" stop-color="#cdfa7a"/><stop offset="0.250" stop-color="#d7f77d"/><stop offset="0.297" stop-color="#e2f281"/><stop offset="0.344" stop-color="#f0e888"/><stop offset="0.391" stop-color="#f8df8b"/><stop offset="0.438" stop-color="#fcd68b"/><stop offset="0.500" stop-color="#fed08b"/><stop offset="0.562" stop-color="#fecc8c"/><stop offset="0.641" stop-color="#fec68a"/><stop offset="0.719" stop-color="#fec086"/><stop offset="0.797" stop-color="#febc82"/><stop offset="0.875" stop-color="#fdb97f"/><stop offset="0.938" stop-color="#fdb67d"/><stop offset="1.000" stop-color="#fcb17a"/></linearGradient><linearGradient id="R40" x1="0" y1="0" x2="0" y2="1"><stop offset="0.000" stop-color="#bbfd6d"/><stop offset="0.009" stop-color="#bbfd6e"/><stop offset="0.019" stop-color="#bcfd6f"/><stop offset="0.047" stop-color="#bffd70"/><stop offset="0.078" stop-color="#c4fc71"/><stop offset="0.116" stop-color="#c9fb73"/><stop offset="0.156" stop-color="#cefa76"/><stop offset="0.203" stop-color="#d4f87a"/><stop offset="0.250" stop-color="#dcf57e"/><stop offset="0.297" stop-color="#e6ef83"/><stop offset="0.344" stop-color="#f1e789"/><stop offset="0.391" stop-color="#f8e08c"/><stop offset="0.438" stop-color="#fcd98e"/><stop offset="0.500" stop-color="#fdd58f"/><stop offset="0.562" stop-color="#fed291"/><stop offset="0.641" stop-color="#ffcc8f"/><stop offset="0.719" stop-color="#fec58b"/><stop offset="0.797" stop-color="#fec388"/><stop offset="0.875" stop-color="#fec086"/><stop offset="0.938" stop-color="#febe84"/><stop offset="1.000" stop-color="#febb82"/></linearGradient><linearGradient id="R41" x1="0" y1="0" x2="0" y2="1"><stop offset="0.000" stop-color="#c7fa69"/><stop offset="0.009" stop-color="#c7fa6a"/><stop offset="0.019" stop-color="#c8fa6b"/><stop offset="0.047" stop-color="#cbf96d"/><stop offset="0.078" stop-color="#cdf970"/><stop offset="0.116" stop-color="#d2f773"/><stop offset="0.156" stop-color="#d7f676"/><stop offset="0.203" stop-color="#dbf47a"/><stop offset="0.250" stop-color="#e1f27f"/><stop offset="0.297" stop-color="#e9ed85"/><stop offset="0.344" stop-color="#f1e78a"/><stop offset="0.391" stop-color="#f7e18e"/><stop offset="0.438" stop-color="#fadd90"/><stop offset="0.500" stop-color="#fcd993"/><stop offset="0.562" stop-color="#fdd795"/><stop offset="0.641" stop-color="#fed294"/><stop offset="0.719" stop-color="#ffca90"/><stop offset="0.797" stop-color="#ffc88e"/><stop offset="0.875" stop-color="#ffc78c"/><stop offset="0.938" stop-color="#fec58b"/><stop offset="1.000" stop-color="#fec58a"/></linearGradient><linearGradient id="R42" x1="0" y1="0" x2="0" y2="1"><stop offset="0.000" stop-color="#d3f568"/><stop offset="0.009" stop-color="#d3f569"/><stop offset="0.019" stop-color="#d3f56a"/><stop offset="0.047" stop-color="#d4f56d"/><stop offset="0.078" stop-color="#d7f470"/><stop offset="0.116" stop-color="#d9f473"/><stop offset="0.156" stop-color="#def277"/><stop offset="0.203" stop-color="#e2f17c"/><stop offset="0.250" stop-color="#e6ef81"/><stop offset="0.297" stop-color="#eceb86"/><stop offset="0.344" stop-color="#f2e78c"/><stop offset="0.391" stop-color="#f7e18f"/><stop offset="0.438" stop-color="#f9e092"/><stop offset="0.500" stop-color="#fbde95"/><stop offset="0.562" stop-color="#fcdb98"/><stop offset="0.641" stop-color="#fed698"/><stop offset="0.719" stop-color="#ffcf94"/><stop offset="0.797" stop-color="#ffce93"/><stop offset="0.875" stop-color="#ffce92"/><stop offset="0.938" stop-color="#ffcd92"/><stop offset="1.000" stop-color="#ffcc90"/></linearGradient><linearGradient id="R43" x1="0" y1="0" x2="0" y2="1"><stop offset="0.000" stop-color="#deef6a"/><stop offset="0.009" stop-color="#deef6b"/><stop offset="0.019" stop-color="#deef6c"/><stop offset="0.047" stop-color="#dfef6e"/><stop offset="0.078" stop-color="#dfef71"/><stop offset="0.116" stop-color="#e2ef75"/><stop offset="0.156" stop-color="#e4ee79"/><stop offset="0.203" stop-color="#e6ee7e"/><stop offset="0.250" stop-color="#ebeb83"/><stop offset="0.297" stop-color="#eee988"/><stop offset="0.344" stop-color="#f3e68d"/><stop offset="0.391" stop-color="#f6e390"/><stop offset="0.438" stop-color="#f7e493"/><stop offset="0.500" stop-color="#f8e398"/><stop offset="0.562" stop-color="#fbe19c"/><stop offset="0.641" stop-color="#fddc9c"/><stop offset="0.719" stop-color="#fed499"/><stop offset="0.797" stop-color="#fed599"/><stop offset="0.875" stop-color="#fed598"/><stop offset="0.938" stop-color="#fed598"/><stop offset="1.000" stop-color="#fed698"/></linearGradient><linearGradient id="R44" x1="0" y1="0" x2="0" y2="1"><stop offset="0.000" stop-color="#e8e76d"/><stop offset="0.009" stop-color="#e8e76e"/><stop offset="0.019" stop-color="#e8e86e"/><stop offset="0.047" stop-color="#e8e871"/><stop offset="0.078" stop-color="#e9e874"/><stop offset="0.116" stop-color="#ebe878"/><stop offset="0.156" stop-color="#ebe87c"/><stop offset="0.203" stop-color="#ece980"/><stop offset="0.250" stop-color="#efe885"/><stop offset="0.297" stop-color="#f1e789"/><stop offset="0.344" stop-color="#f3e68e"/><stop offset="0.391" stop-color="#f5e691"/><stop offset="0.438" stop-color="#f3e894"/><stop offset="0.500" stop-color="#f4e899"/><stop offset="0.562" stop-color="#f7e79e"/><stop offset="0.641" stop-color="#fbe2a0"/><stop offset="0.719" stop-color="#fddb9e"/><stop offset="0.797" stop-color="#fddb9d"/><stop offset="0.875" stop-color="#fddc9d"/><stop offset="0.938" stop-color="#fcdd9d"/><stop offset="1.000" stop-color="#fcde9d"/></linearGradient><linearGradient id="R45" x1="0" y1="0" x2="0" y2="1"><stop offset="0.000" stop-color="#efe16f"/><stop offset="0.009" stop-color="#efe170"/><stop offset="0.019" stop-color="#efe171"/><stop offset="0.047" stop-color="#efe274"/><stop offset="0.078" stop-color="#f1e177"/><stop offset="0.116" stop-color="#f1e27a"/><stop offset="0.156" stop-color="#f2e27e"/><stop offset="0.203" stop-color="#f1e582"/><stop offset="0.250" stop-color="#f3e487"/><stop offset="0.297" stop-color="#f4e48b"/><stop offset="0.344" stop-color="#f4e58f"/><stop offset="0.391" stop-color="#f4e793"/><stop offset="0.438" stop-color="#f0ec95"/><stop offset="0.500" stop-color="#f0ee9a"/><stop offset="0.562" stop-color="#f2ee9f"/><stop offset="0.641" stop-color="#f8e7a2"/><stop offset="0.719" stop-color="#fce0a2"/><stop offset="0.797" stop-color="#fbe1a1"/><stop offset="0.875" stop-color="#fbe2a1"/><stop offset="0.938" stop-color="#fae4a1"/><stop offset="1.000" stop-color="#f8e6a1"/></linearGradient><linearGradient id="R46" x1="0" y1="0" x2="0" y2="1"><stop offset="0.000" stop-color="#f6d871"/><stop offset="0.009" stop-color="#f6d872"/><stop offset="0.019" stop-color="#f6d973"/><stop offset="0.047" stop-color="#f6d976"/><stop offset="0.078" stop-color="#f6da78"/><stop offset="0.116" stop-color="#f7db7c"/><stop offset="0.156" stop-color="#f7dc80"/><stop offset="0.203" stop-color="#f5e084"/><stop offset="0.250" stop-color="#f6e188"/><stop offset="0.297" stop-color="#f6e28c"/><stop offset="0.344" stop-color="#f5e590"/><stop offset="0.391" stop-color="#f2e994"/><stop offset="0.438" stop-color="#ecf096"/><stop offset="0.500" stop-color="#ebf29b"/><stop offset="0.562" stop-color="#ecf3a0"/><stop offset="0.641" stop-color="#f4eda4"/><stop offset="0.719" stop-color="#f9e6a4"/><stop offset="0.797" stop-color="#f9e7a4"/><stop offset="0.875" stop-color="#f8e8a4"/><stop offset="0.938" stop-color="#f6eba4"/><stop offset="1.000" stop-color="#f4eda4"/></linearGradient><linearGradient id="R47" x1="0" y1="0" x2="0" y2="1"><stop offset="0.000" stop-color="#fad172"/><stop offset="0.009" stop-color="#fad173"/><stop offset="0.019" stop-color="#fad174"/><stop offset="0.047" stop-color="#fad276"/><stop offset="0.078" stop-color="#fad379"/><stop offset="0.116" stop-color="#fad67d"/><stop offset="0.156" stop-color="#f9d880"/><stop offset="0.203" stop-color="#f8dc85"/><stop offset="0.250" stop-color="#f7df89"/><stop offset="0.297" stop-color="#f7e18d"/><stop offset="0.344" stop-color="#f5e591"/><stop offset="0.391" stop-color="#f1eb94"/><stop offset="0.438" stop-color="#eaf297"/><stop offset="0.500" stop-color="#e8f59c"/><stop offset="0.562" stop-color="#e9f5a1"/><stop offset="0.641" stop-color="#f0f1a5"/><stop offset="0.719" stop-color="#f5eca6"/><stop offset="0.797" stop-color="#f4eda5"/><stop offset="0.875" stop-color="#f3eea5"/><stop offset="0.938" stop-color="#f1f0a5"/><stop offset="1.000" stop-color="#eff2a4"/></linearGradient><linearGradient id="R48" x1="0" y1="0" x2="0" y2="1"><stop offset="0.000" stop-color="#fccb71"/><stop offset="0.009" stop-color="#fccb72"/><stop offset="0.019" stop-color="#fccc73"/><stop offset="0.047" stop-color="#fccd76"/><stop offset="0.078" stop-color="#fdce78"/><stop offset="0.116" stop-color="#fcd07c"/><stop offset="0.156" stop-color="#fcd380"/><stop offset="0.203" stop-color="#fad885"/><stop offset="0.250" stop-color="#f9dc8a"/><stop offset="0.297" stop-color="#f8df8e"/><stop offset="0.344" stop-color="#f5e692"/><stop offset="0.391" stop-color="#efed95"/><stop offset="0.438" stop-color="#e8f497"/><stop offset="0.500" stop-color="#e6f69d"/><stop offset="0.562" stop-color="#e6f8a2"/><stop offset="0.641" stop-color="#ecf4a6"/><stop offset="0.719" stop-color="#f1f1a6"/><stop offset="0.797" stop-color="#eff2a6"/><stop offset="0.875" stop-color="#eef3a6"/><stop offset="0.938" stop-color="#ecf4a6"/><stop offset="1.000" stop-color="#e9f6a5"/></linearGradient><linearGradient id="R49" x1="0" y1="0" x2="0" y2="1"><stop offset="0.000" stop-color="#fec370"/><stop offset="0.009" stop-color="#fec370"/><stop offset="0.019" stop-color="#fec371"/><stop offset="0.047" stop-color="#fec574"/><stop offset="0.078" stop-color="#fec777"/><stop offset="0.116" stop-color="#feca7b"/><stop offset="0.156" stop-color="#fdcf80"/><stop offset="0.203" stop-color="#fcd385"/><stop offset="0.250" stop-color="#fbd98a"/><stop offset="0.297" stop-color="#f9de8e"/><stop offset="0.344" stop-color="#f4e792"/><stop offset="0.391" stop-color="#edef95"/><stop offset="0.438" stop-color="#e6f598"/><stop offset="0.500" stop-color="#e2f89e"/><stop offset="0.562" stop-color="#e3f9a4"/><stop offset="0.641" stop-color="#e7f8a7"/><stop offset="0.719" stop-color="#ebf5a7"/><stop offset="0.797" stop-color="#eaf6a7"/><stop offset="0.875" stop-color="#e8f7a7"/><stop offset="0.938" stop-color="#e6f8a7"/><stop offset="1.000" stop-color="#e3faa7"/></linearGradient><linearGradient id="R50" x1="0" y1="0" x2="0" y2="1"><stop offset="0.000" stop-color="#febe6f"/><stop offset="0.009" stop-color="#febe6f"/><stop offset="0.019" stop-color="#febe70"/><stop offset="0.047" stop-color="#fec073"/><stop offset="0.078" stop-color="#fec176"/><stop offset="0.116" stop-color="#fec67a"/><stop offset="0.156" stop-color="#fec97f"/><stop offset="0.203" stop-color="#fdd185"/><stop offset="0.250" stop-color="#fcd78a"/><stop offset="0.297" stop-color="#fadd8f"/><stop offset="0.344" stop-color="#f4e793"/><stop offset="0.391" stop-color="#edef96"/><stop offset="0.438" stop-color="#e5f699"/><stop offset="0.500" stop-color="#e2f99f"/><stop offset="0.562" stop-color="#e1fba6"/><stop offset="0.641" stop-color="#e5faa8"/><stop offset="0.719" stop-color="#e7f9a8"/><stop offset="0.797" stop-color="#e4faa8"/><stop offset="0.875" stop-color="#e3faa8"/><stop offset="0.938" stop-color="#e0fca9"/><stop offset="1.000" stop-color="#defca9"/></linearGradient><linearGradient id="R51" x1="0" y1="0" x2="0" y2="1"><stop offset="0.000" stop-color="#feb86d"/><stop offset="0.009" stop-color="#feb96e"/><stop offset="0.019" stop-color="#feb96f"/><stop offset="0.047" stop-color="#feba72"/><stop offset="0.078" stop-color="#febc75"/><stop offset="0.116" stop-color="#fec17a"/><stop offset="0.156" stop-color="#fec67f"/><stop offset="0.203" stop-color="#fecd85"/><stop offset="0.250" stop-color="#fcd68c"/><stop offset="0.297" stop-color="#fbdc91"/><stop offset="0.344" stop-color="#f5e695"/><stop offset="0.391" stop-color="#eeef98"/><stop offset="0.438" stop-color="#e5f69b"/><stop offset="0.500" stop-color="#e1faa1"/><stop offset="0.562" stop-color="#e1fba8"/><stop offset="0.641" stop-color="#e2fbaa"/><stop offset="0.719" stop-color="#e2fbaa"/><stop offset="0.797" stop-color="#dffcaa"/><stop offset="0.875" stop-color="#defcaa"/><stop offset="0.938" stop-color="#dbfdab"/><stop offset="1.000" stop-color="#d8feac"/></linearGradient><linearGradient id="R52" x1="0" y1="0" x2="0" y2="1"><stop offset="0.000" stop-color="#feb36c"/><stop offset="0.009" stop-color="#feb36d"/><stop offset="0.019" stop-color="#feb46e"/><stop offset="0.047" stop-color="#feb571"/><stop offset="0.078" stop-color="#feb774"/><stop offset="0.116" stop-color="#febc79"/><stop offset="0.156" stop-color="#fec27e"/><stop offset="0.203" stop-color="#fecb85"/><stop offset="0.250" stop-color="#fdd48c"/><stop offset="0.297" stop-color="#fbdb92"/><stop offset="0.344" stop-color="#f5e797"/><stop offset="0.391" stop-color="#eeef9a"/><stop offset="0.438" stop-color="#e6f69d"/><stop offset="0.500" stop-color="#e2faa3"/><stop offset="0.562" stop-color="#dffcaa"/><stop offset="0.641" stop-color="#dffcad"/><stop offset="0.719" stop-color="#defdac"/><stop offset="0.797" stop-color="#dbfdad"/><stop offset="0.875" stop-color="#d9fead"/><stop offset="0.938" stop-color="#d5feaf"/><stop offset="1.000" stop-color="#d1ffb1"/></linearGradient><linearGradient id="R53" x1="0" y1="0" x2="0" y2="1"><stop offset="0.000" stop-color="#fdad6b"/><stop offset="0.009" stop-color="#fdae6c"/><stop offset="0.019" stop-color="#fdae6c"/><stop offset="0.047" stop-color="#fdb06f"/><stop offset="0.078" stop-color="#feb473"/><stop offset="0.116" stop-color="#feb778"/><stop offset="0.156" stop-color="#febd7e"/><stop offset="0.203" stop-color="#fec886"/><stop offset="0.250" stop-color="#fed28d"/><stop offset="0.297" stop-color="#fbdc94"/><stop offset="0.344" stop-color="#f5e798"/><stop offset="0.391" stop-color="#eef09b"/><stop offset="0.438" stop-color="#e6f79f"/><stop offset="0.500" stop-color="#e1fba5"/><stop offset="0.562" stop-color="#dffcac"/><stop offset="0.641" stop-color="#ddfdaf"/><stop offset="0.719" stop-color="#dafeb0"/><stop offset="0.797" stop-color="#d6feb1"/><stop offset="0.875" stop-color="#d2ffb3"/><stop offset="0.938" stop-color="#cfffb4"/><stop offset="1.000" stop-color="#caffb7"/></linearGradient><linearGradient id="R54" x1="0" y1="0" x2="0" y2="1"><stop offset="0.000" stop-color="#fdab6c"/><stop offset="0.009" stop-color="#fdab6d"/><stop offset="0.019" stop-color="#fdac6e"/><stop offset="0.047" stop-color="#fdad70"/><stop offset="0.078" stop-color="#fdb174"/><stop offset="0.116" stop-color="#feb77a"/><stop offset="0.156" stop-color="#febd7f"/><stop offset="0.203" stop-color="#ffc787"/><stop offset="0.250" stop-color="#fed28f"/><stop offset="0.297" stop-color="#fbdd95"/><stop offset="0.344" stop-color="#f5e79a"/><stop offset="0.391" stop-color="#eef09d"/><stop offset="0.438" stop-color="#e7f7a0"/><stop offset="0.500" stop-color="#e2fba7"/><stop offset="0.562" stop-color="#e0fdae"/><stop offset="0.641" stop-color="#ddfeb2"/><stop offset="0.719" stop-color="#d9feb3"/><stop offset="0.797" stop-color="#d5ffb5"/><stop offset="0.875" stop-color="#d2ffb6"/><stop offset="0.938" stop-color="#cdffb9"/><stop offset="1.000" stop-color="#caffba"/></linearGradient><linearGradient id="R55" x1="0" y1="0" x2="0" y2="1"><stop offset="0.000" stop-color="#fcab6e"/><stop offset="0.009" stop-color="#fcab6f"/><stop offset="0.019" stop-color="#fcac70"/><stop offset="0.047" stop-color="#fcad72"/><stop offset="0.078" stop-color="#fcaf75"/><stop offset="0.116" stop-color="#fdb67b"/><stop offset="0.156" stop-color="#febc80"/><stop offset="0.203" stop-color="#ffc788"/><stop offset="0.250" stop-color="#fed290"/><stop offset="0.297" stop-color="#fbdd97"/><stop offset="0.344" stop-color="#f6e89b"/><stop offset="0.391" stop-color="#eff09e"/><stop offset="0.438" stop-color="#e7f7a2"/><stop offset="0.500" stop-color="#e3fba9"/><stop offset="0.562" stop-color="#e1fdb1"/><stop offset="0.641" stop-color="#ddfeb6"/><stop offset="0.719" stop-color="#d8ffb7"/><stop offset="0.797" stop-color="#d5ffb8"/><stop offset="0.875" stop-color="#d1ffba"/><stop offset="0.938" stop-color="#ccffbd"/><stop offset="1.000" stop-color="#c9ffbf"/></linearGradient><linearGradient id="R56" x1="0" y1="0" x2="0" y2="1"><stop offset="0.000" stop-color="#fba86f"/><stop offset="0.009" stop-color="#fba970"/><stop offset="0.019" stop-color="#fca971"/><stop offset="0.047" stop-color="#fcab73"/><stop offset="0.078" stop-color="#fcaf77"/><stop offset="0.116" stop-color="#fdb47c"/><stop offset="0.156" stop-color="#febd83"/><stop offset="0.203" stop-color="#fec68a"/><stop offset="0.250" stop-color="#fed292"/><stop offset="0.297" stop-color="#fbdd98"/><stop offset="0.344" stop-color="#f6e89c"/><stop offset="0.391" stop-color="#eff0a0"/><stop offset="0.438" stop-color="#e8f7a4"/><stop offset="0.500" stop-color="#e3fbab"/><stop offset="0.562" stop-color="#e2fdb3"/><stop offset="0.641" stop-color="#defeb8"/><stop offset="0.719" stop-color="#d7ffbc"/><stop offset="0.797" stop-color="#d4ffbd"/><stop offset="0.875" stop-color="#d0ffbf"/><stop offset="0.938" stop-color="#ccffc0"/><stop offset="1.000" stop-color="#c8fec3"/></linearGradient><linearGradient id="R57" x1="0" y1="0" x2="0" y2="1"><stop offset="0.000" stop-color="#fcaf7a"/><stop offset="0.009" stop-color="#fcaf7b"/><stop offset="0.019" stop-color="#fcb07b"/><stop offset="0.047" stop-color="#fcb17e"/><stop offset="0.078" stop-color="#fcb481"/><stop offset="0.116" stop-color="#fdba85"/><stop offset="0.156" stop-color="#fec28b"/><stop offset="0.203" stop-color="#ffcb92"/><stop offset="0.250" stop-color="#fed79a"/><stop offset="0.297" stop-color="#fbe29f"/><stop offset="0.344" stop-color="#f5eba2"/><stop offset="0.391" stop-color="#eef3a6"/><stop offset="0.438" stop-color="#e8f8ab"/><stop offset="0.500" stop-color="#e5fbb2"/><stop offset="0.562" stop-color="#e4fdba"/><stop offset="0.641" stop-color="#e1febe"/><stop offset="0.719" stop-color="#dbffc1"/><stop offset="0.797" stop-color="#d8ffc2"/><stop offset="0.875" stop-color="#d4ffc4"/><stop offset="0.938" stop-color="#d1ffc6"/><stop offset="1.000" stop-color="#ccfec8"/></linearGradient><linearGradient id="R58" x1="0" y1="0" x2="0" y2="1"><stop offset="0.000" stop-color="#fcb585"/><stop offset="0.009" stop-color="#fcb685"/><stop offset="0.019" stop-color="#fcb686"/><stop offset="0.047" stop-color="#fcb788"/><stop offset="0.078" stop-color="#fcba8b"/><stop offset="0.116" stop-color="#fdbf8f"/><stop offset="0.156" stop-color="#fec694"/><stop offset="0.203" stop-color="#ffd19b"/><stop offset="0.250" stop-color="#fedca2"/><stop offset="0.297" stop-color="#fae6a6"/><stop offset="0.344" stop-color="#f4eea8"/><stop offset="0.391" stop-color="#edf5ac"/><stop offset="0.438" stop-color="#eaf9b1"/><stop offset="0.500" stop-color="#e8fbb8"/><stop offset="0.562" stop-color="#e7fdc0"/><stop offset="0.641" stop-color="#e4fec5"/><stop offset="0.719" stop-color="#deffc7"/><stop offset="0.797" stop-color="#dcffc8"/><stop offset="0.875" stop-color="#d8ffca"/><stop offset="0.938" stop-color="#d5ffcb"/><stop offset="1.000" stop-color="#d1ffce"/></linearGradient><linearGradient id="R59" x1="0" y1="0" x2="0" y2="1"><stop offset="0.000" stop-color="#fcc097"/><stop offset="0.009" stop-color="#fcc197"/><stop offset="0.019" stop-color="#fcc198"/><stop offset="0.047" stop-color="#fdc29a"/><stop offset="0.078" stop-color="#fdc49c"/><stop offset="0.116" stop-color="#fdc89f"/><stop offset="0.156" stop-color="#fecfa4"/><stop offset="0.203" stop-color="#ffd7aa"/><stop offset="0.250" stop-color="#fee2b0"/><stop offset="0.297" stop-color="#faebb3"/><stop offset="0.344" stop-color="#f3f3b4"/><stop offset="0.391" stop-color="#eef8b8"/><stop offset="0.438" stop-color="#ecfabd"/><stop offset="0.500" stop-color="#ebfcc3"/><stop offset="0.562" stop-color="#ebfdca"/><stop offset="0.641" stop-color="#e8fece"/><stop offset="0.719" stop-color="#e4ffd0"/><stop offset="0.797" stop-color="#e1ffd1"/><stop offset="0.875" stop-color="#deffd2"/><stop offset="0.938" stop-color="#dcffd3"/><stop offset="1.000" stop-color="#d8ffd5"/></linearGradient><linearGradient id="R60" x1="0" y1="0" x2="0" y2="1"><stop offset="0.000" stop-color="#fdd0b0"/><stop offset="0.009" stop-color="#fdd0b1"/><stop offset="0.019" stop-color="#fdd0b1"/><stop offset="0.047" stop-color="#fdd1b2"/><stop offset="0.078" stop-color="#fdd3b4"/><stop offset="0.116" stop-color="#fed6b7"/><stop offset="0.156" stop-color="#fedbba"/><stop offset="0.203" stop-color="#ffe1bf"/><stop offset="0.250" stop-color="#feeac3"/><stop offset="0.297" stop-color="#f9f2c6"/><stop offset="0.344" stop-color="#f4f7c7"/><stop offset="0.391" stop-color="#f1fbca"/><stop offset="0.438" stop-color="#f1fbce"/><stop offset="0.500" stop-color="#f0fdd3"/><stop offset="0.562" stop-color="#f0fed8"/><stop offset="0.641" stop-color="#eeffdb"/><stop offset="0.719" stop-color="#ebffdd"/><stop offset="0.797" stop-color="#e9ffdd"/><stop offset="0.875" stop-color="#e6ffde"/><stop offset="0.938" stop-color="#e5ffde"/><stop offset="1.000" stop-color="#e2ffe0"/></linearGradient><filter id="bl" x="-50%" y="-50%" width="200%" height="200%"><feGaussianBlur stdDeviation="1"/></filter><linearGradient id="ls1" x1="0" y1="0" x2="1" y2="0"><stop offset="0" stop-color="#f07040" stop-opacity="0.12"/><stop offset="0.4" stop-color="#f07040" stop-opacity="0.3"/><stop offset="0.75" stop-color="#ec6838" stop-opacity="0.5"/><stop offset="1" stop-color="#e45a30" stop-opacity="0.6"/></linearGradient><linearGradient id="ls2" x1="0" y1="0" x2="1" y2="0"><stop offset="0" stop-color="#ec6838" stop-opacity="0.45"/><stop offset="0.3" stop-color="#e65a30" stop-opacity="0.7"/><stop offset="0.5" stop-color="#d84a20" stop-opacity="0.85"/><stop offset="1" stop-color="#d04018" stop-opacity="0.88"/></linearGradient><linearGradient id="rs1" x1="0" y1="0" x2="0" y2="1"><stop offset="0" stop-color="#a8d890"/><stop offset="0.1" stop-color="#e8c070"/><stop offset="0.5" stop-color="#f4a860"/><stop offset="1" stop-color="#f4a058"/></linearGradient><linearGradient id="rs2" x1="0" y1="0" x2="0" y2="1"><stop offset="0" stop-color="#f08848"/><stop offset="0.45" stop-color="#f0a050"/><stop offset="0.75" stop-color="#f0c058"/><stop offset="1" stop-color="#c8e060"/></linearGradient><linearGradient id="rs3" x1="0" y1="0" x2="0" y2="1"><stop offset="0" stop-color="#40a0e0" stop-opacity="0.6"/><stop offset="0.5" stop-color="#50c8c0" stop-opacity="0.35"/><stop offset="1" stop-color="#60d0a0" stop-opacity="0"/></linearGradient></defs>
<line x1="30.53" y1="7" x2="30.53" y2="334" stroke="#c4c4c4" stroke-width="1"/><line x1="38.96" y1="7" x2="38.96" y2="334" stroke="#c4c4c4" stroke-width="1"/><line x1="47.39" y1="7" x2="47.39" y2="334" stroke="#c4c4c4" stroke-width="1"/><line x1="55.82" y1="7" x2="55.82" y2="334" stroke="#c4c4c4" stroke-width="1"/><line x1="64.25" y1="7" x2="64.25" y2="334" stroke="#8c8c8c" stroke-width="1"/><line x1="72.68" y1="7" x2="72.68" y2="334" stroke="#c4c4c4" stroke-width="1"/><line x1="81.11" y1="7" x2="81.11" y2="334" stroke="#c4c4c4" stroke-width="1"/><line x1="89.54" y1="7" x2="89.54" y2="334" stroke="#c4c4c4" stroke-width="1"/><line x1="97.97" y1="7" x2="97.97" y2="334" stroke="#c4c4c4" stroke-width="1"/><line x1="106.40" y1="7" x2="106.40" y2="334" stroke="#8c8c8c" stroke-width="1"/><line x1="114.83" y1="7" x2="114.83" y2="334" stroke="#c4c4c4" stroke-width="1"/><line x1="123.26" y1="7" x2="123.26" y2="334" stroke="#c4c4c4" stroke-width="1"/><line x1="131.69" y1="7" x2="131.69" y2="334" stroke="#c4c4c4" stroke-width="1"/><line x1="140.12" y1="7" x2="140.12" y2="334" stroke="#c4c4c4" stroke-width="1"/><line x1="148.55" y1="7" x2="148.55" y2="334" stroke="#8c8c8c" stroke-width="1"/><line x1="156.98" y1="7" x2="156.98" y2="334" stroke="#c4c4c4" stroke-width="1"/><line x1="165.41" y1="7" x2="165.41" y2="334" stroke="#c4c4c4" stroke-width="1"/><line x1="173.84" y1="7" x2="173.84" y2="334" stroke="#c4c4c4" stroke-width="1"/><line x1="182.27" y1="7" x2="182.27" y2="334" stroke="#c4c4c4" stroke-width="1"/><line x1="190.70" y1="7" x2="190.70" y2="334" stroke="#8c8c8c" stroke-width="1"/><line x1="199.13" y1="7" x2="199.13" y2="334" stroke="#c4c4c4" stroke-width="1"/><line x1="23" y1="326.77" x2="207" y2="326.77" stroke="#c4c4c4" stroke-width="1"/><line x1="23" y1="318.34" x2="207" y2="318.34" stroke="#c4c4c4" stroke-width="1"/><line x1="23" y1="309.91" x2="207" y2="309.91" stroke="#c4c4c4" stroke-width="1"/><line x1="23" y1="301.48" x2="207" y2="301.48" stroke="#c4c4c4" stroke-width="1"/><line x1="23" y1="293.05" x2="207" y2="293.05" stroke="#8c8c8c" stroke-width="1"/><line x1="23" y1="284.62" x2="207" y2="284.62" stroke="#c4c4c4" stroke-width="1"/><line x1="23" y1="276.19" x2="207" y2="276.19" stroke="#c4c4c4" stroke-width="1"/><line x1="23" y1="267.76" x2="207" y2="267.76" stroke="#c4c4c4" stroke-width="1"/><line x1="23" y1="259.33" x2="207" y2="259.33" stroke="#c4c4c4" stroke-width="1"/><line x1="23" y1="250.90" x2="207" y2="250.90" stroke="#8c8c8c" stroke-width="1"/><line x1="23" y1="242.47" x2="207" y2="242.47" stroke="#c4c4c4" stroke-width="1"/><line x1="23" y1="234.04" x2="207" y2="234.04" stroke="#c4c4c4" stroke-width="1"/><line x1="23" y1="225.61" x2="207" y2="225.61" stroke="#c4c4c4" stroke-width="1"/><line x1="23" y1="217.18" x2="207" y2="217.18" stroke="#c4c4c4" stroke-width="1"/><line x1="23" y1="208.75" x2="207" y2="208.75" stroke="#8c8c8c" stroke-width="1"/><line x1="23" y1="200.32" x2="207" y2="200.32" stroke="#c4c4c4" stroke-width="1"/><line x1="23" y1="191.89" x2="207" y2="191.89" stroke="#c4c4c4" stroke-width="1"/><line x1="23" y1="183.46" x2="207" y2="183.46" stroke="#c4c4c4" stroke-width="1"/><line x1="23" y1="175.03" x2="207" y2="175.03" stroke="#c4c4c4" stroke-width="1"/><line x1="23" y1="166.60" x2="207" y2="166.60" stroke="#8c8c8c" stroke-width="1"/><line x1="23" y1="158.17" x2="207" y2="158.17" stroke="#c4c4c4" stroke-width="1"/><line x1="23" y1="149.74" x2="207" y2="149.74" stroke="#c4c4c4" stroke-width="1"/><line x1="23" y1="141.31" x2="207" y2="141.31" stroke="#c4c4c4" stroke-width="1"/><line x1="23" y1="132.88" x2="207" y2="132.88" stroke="#c4c4c4" stroke-width="1"/><line x1="23" y1="124.45" x2="207" y2="124.45" stroke="#8c8c8c" stroke-width="1"/><line x1="23" y1="116.02" x2="207" y2="116.02" stroke="#c4c4c4" stroke-width="1"/><line x1="23" y1="107.59" x2="207" y2="107.59" stroke="#c4c4c4" stroke-width="1"/><line x1="23" y1="99.16" x2="207" y2="99.16" stroke="#c4c4c4" stroke-width="1"/><line x1="23" y1="90.73" x2="207" y2="90.73" stroke="#c4c4c4" stroke-width="1"/><line x1="23" y1="82.30" x2="207" y2="82.30" stroke="#8c8c8c" stroke-width="1"/><line x1="23" y1="73.87" x2="207" y2="73.87" stroke="#c4c4c4" stroke-width="1"/><line x1="23" y1="65.44" x2="207" y2="65.44" stroke="#c4c4c4" stroke-width="1"/><line x1="23" y1="57.01" x2="207" y2="57.01" stroke="#c4c4c4" stroke-width="1"/><line x1="23" y1="48.58" x2="207" y2="48.58" stroke="#c4c4c4" stroke-width="1"/><line x1="23" y1="40.15" x2="207" y2="40.15" stroke="#8c8c8c" stroke-width="1"/><line x1="23" y1="31.72" x2="207" y2="31.72" stroke="#c4c4c4" stroke-width="1"/><line x1="23" y1="23.29" x2="207" y2="23.29" stroke="#c4c4c4" stroke-width="1"/><line x1="23" y1="14.86" x2="207" y2="14.86" stroke="#c4c4c4" stroke-width="1"/>
<rect x="22" y="9.0" width="2" height="321.0" fill="url(#L0)" /><rect x="24" y="9.1" width="2" height="320.9" fill="url(#L1)" /><rect x="26" y="9.1" width="2" height="320.9" fill="url(#L2)" /><rect x="28" y="9.1" width="2" height="320.9" fill="url(#L3)" /><rect x="30" y="9.2" width="2" height="320.8" fill="url(#L4)" /><rect x="32" y="9.2" width="2" height="320.8" fill="url(#L5)" /><rect x="34" y="9.2" width="2" height="320.8" fill="url(#L6)" /><rect x="36" y="9.3" width="2" height="320.7" fill="url(#L7)" /><rect x="38" y="9.3" width="2" height="320.7" fill="url(#L8)" /><rect x="40" y="9.3" width="2" height="320.7" fill="url(#L9)" /><rect x="42" y="9.4" width="2" height="320.6" fill="url(#L10)" /><rect x="44" y="9.4" width="2" height="320.6" fill="url(#L11)" /><rect x="46" y="9.5" width="2" height="320.5" fill="url(#L12)" /><rect x="48" y="9.5" width="2" height="320.5" fill="url(#L13)" /><rect x="50" y="9.5" width="2" height="320.5" fill="url(#L14)" /><rect x="52" y="9.6" width="2" height="320.4" fill="url(#L15)" /><rect x="54" y="9.6" width="2" height="320.4" fill="url(#L16)" /><rect x="56" y="9.6" width="2" height="320.4" fill="url(#L17)" /><rect x="58" y="9.7" width="2" height="320.3" fill="url(#L18)" /><rect x="60" y="9.7" width="2" height="320.3" fill="url(#L19)" /><rect x="62" y="9.7" width="2" height="320.3" fill="url(#L20)" /><rect x="64" y="9.8" width="2" height="320.2" fill="url(#L21)" /><rect x="66" y="9.8" width="2" height="320.2" fill="url(#L22)" /><rect x="68" y="9.9" width="2" height="320.1" fill="url(#L23)" /><rect x="70" y="9.9" width="2" height="320.1" fill="url(#L24)" /><rect x="72" y="9.9" width="2" height="320.1" fill="url(#L25)" /><rect x="74" y="10.0" width="2" height="320.0" fill="url(#L26)" /><rect x="76" y="10.0" width="2" height="320.0" fill="url(#L27)" /><rect x="78" y="10.0" width="2" height="320.0" fill="url(#L28)" /><rect x="80" y="10.1" width="2" height="319.9" fill="url(#L29)" /><rect x="82" y="10.1" width="2" height="319.9" fill="url(#L30)" /><rect x="84" y="10.1" width="2" height="319.9" fill="url(#L31)" /><rect x="86" y="10.2" width="2" height="319.8" fill="url(#L32)" /><rect x="88" y="10.2" width="2" height="319.8" fill="url(#L33)" /><rect x="90" y="10.3" width="2" height="319.7" fill="url(#L34)" /><rect x="92" y="10.4" width="2" height="319.6" fill="url(#L35)" /><rect x="94" y="10.5" width="2" height="319.5" fill="url(#L36)" /><rect x="96" y="10.5" width="2" height="319.5" fill="url(#L37)" /><rect x="98" y="10.6" width="2" height="319.4" fill="url(#L38)" /><rect x="100" y="10.7" width="2" height="319.3" fill="url(#L39)" /><rect x="102" y="10.7" width="2" height="319.3" fill="url(#L40)" /><rect x="104" y="10.8" width="2" height="319.2" fill="url(#L41)" /><rect x="106" y="10.9" width="2" height="319.1" fill="url(#L42)" /><rect x="108" y="11.0" width="2" height="319.0" fill="url(#L43)" /><rect x="110" y="11.0" width="2" height="319.0" fill="url(#L44)" /><rect x="112" y="11.1" width="2" height="318.9" fill="url(#L45)" /><rect x="114" y="11.2" width="2" height="318.8" fill="url(#L46)" /><rect x="116" y="11.2" width="2" height="318.8" fill="url(#L47)" /><rect x="118" y="11.3" width="2" height="318.7" fill="url(#L48)" /><rect x="120" y="11.4" width="2" height="318.6" fill="url(#L49)" /><rect x="122" y="11.5" width="2" height="318.5" fill="url(#L50)" /><rect x="124" y="11.5" width="2" height="318.5" fill="url(#L51)" /><rect x="126" y="11.6" width="2" height="318.4" fill="url(#L52)" /><rect x="128" y="11.7" width="2" height="318.3" fill="url(#L53)" /><rect x="130" y="11.7" width="2" height="318.3" fill="url(#L54)" /><rect x="132" y="11.8" width="2" height="318.2" fill="url(#L55)" /><rect x="134" y="11.9" width="2" height="318.1" fill="url(#L56)" /><rect x="136" y="12.0" width="2" height="318.0" fill="url(#L57)" />
<rect x="309" y="10.0" width="2" height="320.0" fill="url(#R0)" /><rect x="311" y="10.0" width="2" height="320.0" fill="url(#R1)" /><rect x="313" y="10.0" width="2" height="320.0" fill="url(#R2)" /><rect x="315" y="10.0" width="2" height="320.0" fill="url(#R3)" /><rect x="317" y="10.0" width="2" height="320.0" fill="url(#R4)" /><rect x="319" y="10.0" width="2" height="320.0" fill="url(#R5)" /><rect x="321" y="10.0" width="2" height="320.0" fill="url(#R6)" /><rect x="323" y="10.0" width="2" height="320.0" fill="url(#R7)" /><rect x="325" y="10.0" width="2" height="320.0" fill="url(#R8)" /><rect x="327" y="10.0" width="2" height="320.0" fill="url(#R9)" /><rect x="329" y="10.0" width="2" height="320.0" fill="url(#R10)" /><rect x="331" y="10.0" width="2" height="320.0" fill="url(#R11)" /><rect x="333" y="10.0" width="2" height="320.0" fill="url(#R12)" /><rect x="335" y="10.0" width="2" height="320.0" fill="url(#R13)" /><rect x="337" y="10.0" width="2" height="320.0" fill="url(#R14)" /><rect x="339" y="10.0" width="2" height="320.0" fill="url(#R15)" /><rect x="341" y="10.0" width="2" height="320.0" fill="url(#R16)" /><rect x="343" y="10.0" width="2" height="320.0" fill="url(#R17)" /><rect x="345" y="10.0" width="2" height="320.0" fill="url(#R18)" /><rect x="347" y="10.0" width="2" height="320.0" fill="url(#R19)" /><rect x="349" y="10.0" width="2" height="320.0" fill="url(#R20)" /><rect x="351" y="10.0" width="2" height="320.0" fill="url(#R21)" /><rect x="353" y="10.0" width="2" height="320.0" fill="url(#R22)" /><rect x="355" y="10.0" width="2" height="320.0" fill="url(#R23)" /><rect x="357" y="10.0" width="2" height="320.0" fill="url(#R24)" /><rect x="359" y="10.0" width="2" height="320.0" fill="url(#R25)" /><rect x="361" y="10.0" width="2" height="320.0" fill="url(#R26)" /><rect x="363" y="10.0" width="2" height="320.0" fill="url(#R27)" /><rect x="365" y="10.0" width="2" height="320.0" fill="url(#R28)" /><rect x="367" y="10.0" width="2" height="320.0" fill="url(#R29)" /><rect x="369" y="10.0" width="2" height="320.0" fill="url(#R30)" /><rect x="371" y="10.0" width="2" height="320.0" fill="url(#R31)" /><rect x="373" y="10.0" width="2" height="320.0" fill="url(#R32)" /><rect x="375" y="10.0" width="2" height="320.0" fill="url(#R33)" /><rect x="377" y="10.0" width="2" height="320.0" fill="url(#R34)" /><rect x="379" y="10.0" width="2" height="320.0" fill="url(#R35)" /><rect x="381" y="10.0" width="2" height="320.0" fill="url(#R36)" /><rect x="383" y="10.0" width="2" height="320.0" fill="url(#R37)" /><rect x="385" y="10.0" width="2" height="320.0" fill="url(#R38)" /><rect x="387" y="10.0" width="2" height="320.0" fill="url(#R39)" /><rect x="389" y="10.0" width="2" height="320.0" fill="url(#R40)" /><rect x="391" y="10.0" width="2" height="320.0" fill="url(#R41)" /><rect x="393" y="10.0" width="2" height="320.0" fill="url(#R42)" /><rect x="395" y="10.0" width="2" height="320.0" fill="url(#R43)" /><rect x="397" y="10.0" width="2" height="320.0" fill="url(#R44)" /><rect x="399" y="10.0" width="2" height="320.0" fill="url(#R45)" /><rect x="401" y="10.0" width="2" height="320.0" fill="url(#R46)" /><rect x="403" y="10.0" width="2" height="320.0" fill="url(#R47)" /><rect x="405" y="10.0" width="2" height="320.0" fill="url(#R48)" /><rect x="407" y="10.0" width="2" height="320.0" fill="url(#R49)" /><rect x="409" y="10.0" width="2" height="320.0" fill="url(#R50)" /><rect x="411" y="10.0" width="2" height="320.0" fill="url(#R51)" /><rect x="413" y="10.0" width="2" height="320.0" fill="url(#R52)" /><rect x="415" y="10.0" width="2" height="320.0" fill="url(#R53)" /><rect x="417" y="10.0" width="2" height="320.0" fill="url(#R54)" /><rect x="419" y="10.0" width="2" height="320.0" fill="url(#R55)" /><rect x="421" y="10.0" width="2" height="320.0" fill="url(#R56)" /><rect x="423" y="10.0" width="2" height="320.0" fill="url(#R57)" /><rect x="425" y="10.0" width="2" height="320.0" fill="url(#R58)" /><rect x="427" y="10.0" width="2" height="320.0" fill="url(#R59)" /><rect x="429" y="10.0" width="1" height="320.0" fill="url(#R60)" />
<rect x="139" y="12" width="1" height="316" fill="#4a6fe8" opacity="0.55"/><rect x="142" y="14" width="1" height="314" fill="#2cc8e0" opacity="0.55"/><line x1="145" y1="270" x2="148.5" y2="320" stroke="#50e0a0" stroke-width="1" opacity="0.5"/><rect x="45" y="9" width="1.4" height="321" fill="#fff" opacity="0.92"/><rect x="92" y="100" width="1" height="230" fill="#3050c8" opacity="0.45"/><rect x="93" y="9" width="1" height="321" fill="#fff" opacity="0.75"/><rect x="52" y="237" width="3" height="22" fill="#b82808" opacity="0.4" filter="url(#bl)"/><rect x="339" y="236" width="3.5" height="28" fill="#b82808" opacity="0.45" filter="url(#bl)"/><rect x="184.3" y="12" width="1" height="160" fill="#f0c830" opacity="0.35"/><rect x="190" y="10" width="11" height="190" fill="url(#ls1)"/><rect x="201" y="10" width="11" height="321" fill="url(#ls2)"/><rect x="192" y="11" width="1" height="185" fill="#f07038" opacity="0.35"/><rect x="194" y="11" width="1" height="187" fill="#f07038" opacity="0.35"/><rect x="196" y="11" width="1" height="188" fill="#ee6a35" opacity="0.35"/><rect x="198" y="11" width="1" height="189" fill="#ec6530" opacity="0.40"/><rect x="197" y="10" width="13" height="12" fill="#d0d050" opacity="0.3"/><rect x="332.2" y="10" width="1.4" height="320" fill="#fff" opacity="0.85"/><rect x="332.4" y="60" width="1" height="200" fill="#3aa0e8" opacity="0.35"/><rect x="379" y="10" width="1" height="320" fill="#3a90e0" opacity="0.4"/><rect x="380" y="10" width="1" height="320" fill="#fff" opacity="0.5"/><rect x="469" y="40" width="1.2" height="160" fill="#f07050" opacity="0.30"/><rect x="476" y="12" width="1.2" height="190" fill="#f08a50" opacity="0.45"/><rect x="478" y="12" width="1.2" height="190" fill="#f08a50" opacity="0.50"/><rect x="480" y="12" width="1.2" height="190" fill="#f09050" opacity="0.50"/><rect x="482" y="12" width="1.2" height="190" fill="#f09050" opacity="0.55"/><rect x="484" y="12" width="1.2" height="190" fill="#f09458" opacity="0.55"/><rect x="486" y="12" width="1.2" height="190" fill="#f09a58" opacity="0.60"/><rect x="476" y="12" width="12" height="190" fill="#f8b888" opacity="0.3"/><rect x="488" y="11" width="11" height="191" fill="url(#rs1)" opacity="0.62"/><rect x="488" y="10" width="11" height="35" fill="url(#rs3)"/><rect x="487.5" y="202" width="11.5" height="128" fill="url(#rs2)" opacity="0.6"/><rect x="485" y="202" width="1" height="120" fill="#f0a050" opacity="0.35"/><rect x="49.4" y="331.9" width="1.2" height="1.2" fill="#3a5ad8" opacity="0.8"/><rect x="50.7" y="332.0" width="1.2" height="1.2" fill="#3a5ad8" opacity="0.8"/><rect x="53.3" y="330.7" width="1.2" height="1.2" fill="#3a5ad8" opacity="0.8"/><rect x="47.1" y="332.6" width="1.2" height="1.2" fill="#3a5ad8" opacity="0.8"/><rect x="49.6" y="331.1" width="1.2" height="1.2" fill="#3a5ad8" opacity="0.8"/><rect x="57.0" y="331.7" width="1.2" height="1.2" fill="#3a5ad8" opacity="0.8"/><rect x="55.4" y="331.7" width="1.2" height="1.2" fill="#3a5ad8" opacity="0.8"/><rect x="53.4" y="330.9" width="1.2" height="1.2" fill="#3a5ad8" opacity="0.8"/><rect x="99.7" y="332.7" width="1.2" height="1.2" fill="#2a2a88" opacity="0.8"/><rect x="97.5" y="332.4" width="1.2" height="1.2" fill="#2a2a88" opacity="0.8"/><rect x="100.4" y="330.7" width="1.2" height="1.2" fill="#2a2a88" opacity="0.8"/><rect x="102.2" y="332.0" width="1.2" height="1.2" fill="#2a2a88" opacity="0.8"/><rect x="93.0" y="330.6" width="1.2" height="1.2" fill="#2a2a88" opacity="0.8"/><rect x="104.3" y="331.7" width="1.2" height="1.2" fill="#2a2a88" opacity="0.8"/><rect x="101.4" y="332.7" width="1.2" height="1.2" fill="#2a2a88" opacity="0.8"/><rect x="101.3" y="332.8" width="1.2" height="1.2" fill="#2a2a88" opacity="0.8"/><rect x="94.9" y="332.5" width="1.2" height="1.2" fill="#2a2a88" opacity="0.8"/><rect x="95.9" y="332.8" width="1.2" height="1.2" fill="#2a2a88" opacity="0.8"/><rect x="104.6" y="330.7" width="1.2" height="1.2" fill="#2a2a88" opacity="0.8"/><rect x="89.7" y="331.0" width="1.2" height="1.2" fill="#2a2a88" opacity="0.8"/><rect x="106.3" y="331.6" width="1.2" height="1.2" fill="#2a2a88" opacity="0.8"/><rect x="99.5" y="331.3" width="1.2" height="1.2" fill="#2a2a88" opacity="0.8"/><rect x="97.1" y="331.5" width="1.2" height="1.2" fill="#2a2a88" opacity="0.8"/><rect x="94.0" y="332.0" width="1.2" height="1.2" fill="#2a2a88" opacity="0.8"/><rect x="340.0" y="332.8" width="1.2" height="1.2" fill="#2a3498" opacity="0.8"/><rect x="341.2" y="332.8" width="1.2" height="1.2" fill="#2a3498" opacity="0.8"/><rect x="343.3" y="333.0" width="1.2" height="1.2" fill="#2a3498" opacity="0.8"/><rect x="341.1" y="330.9" width="1.2" height="1.2" fill="#2a3498" opacity="0.8"/><rect x="343.3" y="332.9" width="1.2" height="1.2" fill="#2a3498" opacity="0.8"/><rect x="343.9" y="331.9" width="1.2" height="1.2" fill="#2a3498" opacity="0.8"/><rect x="341.6" y="331.0" width="1.2" height="1.2" fill="#2a3498" opacity="0.8"/><rect x="343.0" y="331.9" width="1.2" height="1.2" fill="#2a3498" opacity="0.8"/><rect x="336.4" y="330.7" width="1.2" height="1.2" fill="#2a3498" opacity="0.8"/><rect x="389.2" y="333.0" width="1.2" height="1.2" fill="#2a2a88" opacity="0.8"/><rect x="369.3" y="332.5" width="1.2" height="1.2" fill="#2a2a88" opacity="0.8"/><rect x="377.7" y="330.9" width="1.2" height="1.2" fill="#2a2a88" opacity="0.8"/><rect x="374.6" y="332.4" width="1.2" height="1.2" fill="#2a2a88" opacity="0.8"/><rect x="389.7" y="330.6" width="1.2" height="1.2" fill="#2a2a88" opacity="0.8"/><rect x="383.0" y="330.6" width="1.2" height="1.2" fill="#2a2a88" opacity="0.8"/><rect x="385.7" y="331.3" width="1.2" height="1.2" fill="#2a2a88" opacity="0.8"/><rect x="389.9" y="333.0" width="1.2" height="1.2" fill="#2a2a88" opacity="0.8"/><rect x="380.1" y="333.0" width="1.2" height="1.2" fill="#2a2a88" opacity="0.8"/><rect x="375.1" y="330.7" width="1.2" height="1.2" fill="#2a2a88" opacity="0.8"/><rect x="382.6" y="330.6" width="1.2" height="1.2" fill="#2a2a88" opacity="0.8"/><rect x="372.1" y="331.5" width="1.2" height="1.2" fill="#2a2a88" opacity="0.8"/><rect x="382.9" y="330.9" width="1.2" height="1.2" fill="#2a2a88" opacity="0.8"/><rect x="368.1" y="332.7" width="1.2" height="1.2" fill="#2a2a88" opacity="0.8"/><rect x="375.2" y="332.9" width="1.2" height="1.2" fill="#2a2a88" opacity="0.8"/><rect x="390.3" y="331.4" width="1.2" height="1.2" fill="#2a2a88" opacity="0.8"/><rect x="379.0" y="331.8" width="1.2" height="1.2" fill="#2a2a88" opacity="0.8"/><rect x="383.7" y="332.0" width="1.2" height="1.2" fill="#2a2a88" opacity="0.8"/><rect x="381.5" y="332.1" width="1.2" height="1.2" fill="#2a2a88" opacity="0.8"/><rect x="391.5" y="331.8" width="1.2" height="1.2" fill="#2a2a88" opacity="0.8"/>
<rect x="22" y="6" width="186" height="329" fill="none" stroke="#000" stroke-width="2"/>
<rect x="207" y="10" width="2" height="321" fill="#c83818" opacity="0.45"/>
<path d="M308.5 329.5V334.5H499" fill="none" stroke="#c0c0c0" stroke-width="1"/>
<defs><linearGradient id="cbg" x1="0" y1="0" x2="0" y2="1"><stop offset="0.000" stop-color="#7a0403"/><stop offset="0.031" stop-color="#920b01"/><stop offset="0.062" stop-color="#a91601"/><stop offset="0.094" stop-color="#be2102"/><stop offset="0.125" stop-color="#d02f05"/><stop offset="0.156" stop-color="#df3f08"/><stop offset="0.188" stop-color="#eb500e"/><stop offset="0.219" stop-color="#f46617"/><stop offset="0.250" stop-color="#fb7e21"/><stop offset="0.281" stop-color="#fe962b"/><stop offset="0.312" stop-color="#fdac34"/><stop offset="0.344" stop-color="#f8be39"/><stop offset="0.375" stop-color="#eecf3a"/><stop offset="0.406" stop-color="#dfdf37"/><stop offset="0.438" stop-color="#cdec34"/><stop offset="0.469" stop-color="#b9f635"/><stop offset="0.500" stop-color="#a4fc3c"/><stop offset="0.531" stop-color="#8bff4b"/><stop offset="0.562" stop-color="#6dfe62"/><stop offset="0.594" stop-color="#4ef97d"/><stop offset="0.625" stop-color="#32f298"/><stop offset="0.656" stop-color="#1fe9af"/><stop offset="0.688" stop-color="#18ddc2"/><stop offset="0.719" stop-color="#1ccdd8"/><stop offset="0.750" stop-color="#28bceb"/><stop offset="0.781" stop-color="#37a8fa"/><stop offset="0.812" stop-color="#4294ff"/><stop offset="0.844" stop-color="#4680f6"/><stop offset="0.875" stop-color="#466be3"/><stop offset="0.906" stop-color="#4456c7"/><stop offset="0.938" stop-color="#4040a2"/><stop offset="0.969" stop-color="#392a73"/><stop offset="1.000" stop-color="#30123b"/></linearGradient></defs>
<rect x="217" y="6" width="10" height="329" fill="url(#cbg)"/>
<rect x="504" y="10" width="9" height="325" fill="url(#cbg)"/>
<line x1="224" y1="30.8" x2="227" y2="30.8" stroke="#222" stroke-width="0.8" opacity="0.7"/>
<line x1="224" y1="91.8" x2="227" y2="91.8" stroke="#222" stroke-width="0.8" opacity="0.7"/>
<line x1="224" y1="152.8" x2="227" y2="152.8" stroke="#222" stroke-width="0.8" opacity="0.7"/>
<line x1="224" y1="213.8" x2="227" y2="213.8" stroke="#222" stroke-width="0.8" opacity="0.7"/>
<line x1="224" y1="274.8" x2="227" y2="274.8" stroke="#222" stroke-width="0.8" opacity="0.7"/>
<line x1="510.5" y1="29.3" x2="513" y2="29.3" stroke="#222" stroke-width="0.8" opacity="0.7"/>
<line x1="510.5" y1="67.4" x2="513" y2="67.4" stroke="#222" stroke-width="0.8" opacity="0.7"/>
<line x1="510.5" y1="105.6" x2="513" y2="105.6" stroke="#222" stroke-width="0.8" opacity="0.7"/>
<line x1="510.5" y1="143.7" x2="513" y2="143.7" stroke="#222" stroke-width="0.8" opacity="0.7"/>
<line x1="510.5" y1="181.9" x2="513" y2="181.9" stroke="#222" stroke-width="0.8" opacity="0.7"/>
<line x1="510.5" y1="220.0" x2="513" y2="220.0" stroke="#222" stroke-width="0.8" opacity="0.7"/>
<line x1="510.5" y1="258.1" x2="513" y2="258.1" stroke="#222" stroke-width="0.8" opacity="0.7"/>
<line x1="510.5" y1="296.3" x2="513" y2="296.3" stroke="#222" stroke-width="0.8" opacity="0.7"/>
<line x1="351.4" y1="332" x2="351.4" y2="334.5" stroke="#aaa" stroke-width="0.8"/>
<line x1="393.5" y1="332" x2="393.5" y2="334.5" stroke="#aaa" stroke-width="0.8"/>
<line x1="435.6" y1="332" x2="435.6" y2="334.5" stroke="#aaa" stroke-width="0.8"/>
<line x1="477.8" y1="332" x2="477.8" y2="334.5" stroke="#aaa" stroke-width="0.8"/>
</svg>
<div class="t yl" style="left:-11.5px;top:329.7px">0</div>
<div class="t yl" style="left:-11.5px;top:287.6px">0.5</div>
<div class="t yl" style="left:-11.5px;top:245.4px">1</div>
<div class="t yl" style="left:-11.5px;top:203.2px">1.5</div>
<div class="t yl" style="left:-11.5px;top:161.1px">2</div>
<div class="t yl" style="left:-11.5px;top:119.0px">2.5</div>
<div class="t yl" style="left:-11.5px;top:76.8px">3</div>
<div class="t yl" style="left:-11.5px;top:34.6px">3.5</div>
<div class="t yl" style="left:275.5px;top:287.6px">0.5</div>
<div class="t yl" style="left:275.5px;top:245.4px">1</div>
<div class="t yl" style="left:275.5px;top:203.2px">1.5</div>
<div class="t yl" style="left:275.5px;top:161.1px">2</div>
<div class="t yl" style="left:275.5px;top:119.0px">2.5</div>
<div class="t yl" style="left:275.5px;top:76.8px">3</div>
<div class="t yl" style="left:275.5px;top:34.6px">3.5</div>
<div class="t xl" style="left:7.0px;top:340.3px">0</div>
<div class="t xl" style="left:49.2px;top:340.3px">0.5</div>
<div class="t xl" style="left:91.3px;top:340.3px">1</div>
<div class="t xl" style="left:133.4px;top:340.3px">1.5</div>
<div class="t xl" style="left:175.6px;top:340.3px">2</div>
<div class="t xl" style="left:336.3px;top:340.3px">0.5</div>
<div class="t xl" style="left:378.5px;top:340.3px">1</div>
<div class="t xl" style="left:420.6px;top:340.3px">1.5</div>
<div class="t xl" style="left:462.8px;top:340.3px">2</div>
<div class="t" style="left:229.5px;top:24.9px">20</div>
<div class="t" style="left:229.5px;top:85.9px">15</div>
<div class="t" style="left:229.5px;top:146.9px">10</div>
<div class="t" style="left:229.5px;top:207.9px">5</div>
<div class="t" style="left:229.5px;top:268.9px">0</div>
<div class="t" style="left:229.5px;top:329.9px">-5</div>
<div class="t" style="left:516.5px;top:23.6px">6</div>
<div class="t" style="left:516.5px;top:61.7px">4</div>
<div class="t" style="left:516.5px;top:99.9px">2</div>
<div class="t" style="left:516.5px;top:138.0px">0</div>
<div class="t" style="left:516.5px;top:176.2px">-2</div>
<div class="t" style="left:516.5px;top:214.3px">-4</div>
<div class="t" style="left:516.5px;top:252.4px">-6</div>
<div class="t" style="left:516.5px;top:290.6px">-8</div>
<div class="t" style="left:516.5px;top:328.7px">-10</div>
<div class="lab" style="left:246px;top:238px">Orthogonal distance [mm]</div>
<div class="lab" style="left:535px;top:285px">Distance from the regression cylinder [mm]</div>
<div class="cap" style="left:104.5px;top:360px">(a)</div>
<div class="cap" style="left:392px;top:360px">(b)</div>
</body></html>
